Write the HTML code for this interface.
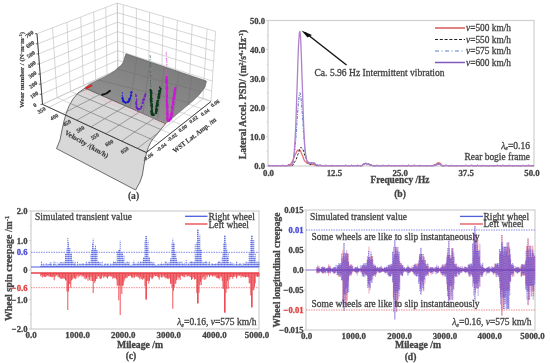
<!DOCTYPE html>
<html><head><meta charset="utf-8"><style>
html,body{margin:0;padding:0;background:#fff;overflow:hidden;}
svg{display:block;font-family:"Liberation Serif",serif;filter:blur(0.35px);}
</style></head><body>
<svg width="550" height="363" viewBox="0 0 550 363">
<rect width="550" height="363" fill="#fff"/>
<path d="M37.0,33.7 L42.5,104.4 M52.6,27.8 L57.1,97.6 M66.9,22.3 L70.5,91.5 M80.7,17.1 L83.5,85.5 M93.7,12.1 L95.7,79.8 M105.8,7.5 L107.0,74.6 M117.3,3.1 L117.8,69.6 M37.0,33.7 L117.3,3.1 M37.8,43.8 L117.4,12.6 M38.6,53.9 L117.4,22.1 M39.4,64.0 L117.5,31.6 M40.1,74.1 L117.6,41.1 M40.9,84.2 L117.7,50.6 M41.7,94.3 L117.7,60.1 M42.5,104.4 L117.8,69.6 M117.3,3.1 L117.8,69.6 M123.2,4.8 L123.4,71.5 M136.4,8.6 L135.9,75.7 M149.6,12.4 L148.5,79.9 M163.3,16.3 L161.4,84.3 M177.3,20.4 L174.7,88.8 M192.2,24.7 L188.8,93.5 M207.1,29.0 L203.0,98.3 M215.6,31.4 L211.0,101.0 M117.3,3.1 L215.6,31.4 M117.4,12.6 L214.9,41.3 M117.4,22.1 L214.3,51.3 M117.5,31.6 L213.6,61.2 M117.6,41.1 L213.0,71.2 M117.7,50.6 L212.3,81.1 M117.7,60.1 L211.7,91.1 M117.8,69.6 L211.0,101.0" stroke="#c4c4c4" stroke-width="0.7" fill="none"/>
<path d="M117.8,69.6 L42.5,104.4 M123.4,71.5 L48.7,107.3 M135.9,75.8 L62.6,113.7 M148.5,80.1 L76.7,120.2 M161.4,84.5 L91.1,126.9 M174.7,89.1 L105.8,133.7 M188.8,93.9 L121.6,141.1 M203.0,98.8 L137.4,148.4 M211.0,101.5 L146.3,152.5 M42.5,104.4 L146.3,152.5 M57.1,97.6 L158.9,142.6 M70.5,91.5 L170.4,133.5 M83.5,85.5 L181.5,124.8 M95.7,79.8 L192.0,116.5 M107.0,74.6 L201.7,108.8 M117.8,69.6 L211.0,101.5" stroke="#c4c4c4" stroke-width="0.7" fill="none"/>
<polygon points="85.0,88.0 165.5,123.5 164.1,125.5 161.0,129.0 156.5,134.9 153.0,138.8 150.7,142.3 148.3,147.5 146.5,153.0 144.0,164.7 142.4,175.0 140.0,182.0 135.6,190.0 56.5,148.6 60.0,140.0 62.0,130.0 64.0,121.0 66.0,114.0 69.0,106.0 73.0,99.0 78.0,93.0 85.0,88.0" fill="#d8d8d8" stroke="#4a4a4a" stroke-width="0.8"/>
<linearGradient id="dkg" gradientUnits="userSpaceOnUse" x1="160" y1="60" x2="140" y2="115"><stop offset="0" stop-color="#7c7c7c"/><stop offset="1" stop-color="#909090"/></linearGradient>
<polygon points="126.0,53.8 206.4,81.0 205.0,87.0 200.0,93.8 193.0,100.7 184.8,107.6 176.5,114.5 168.3,121.4 165.5,123.5 85.0,88.0 89.0,84.4 98.0,80.0 104.0,77.2 110.3,73.8 114.5,71.0 118.0,67.7 121.0,65.5 123.5,62.0 124.5,58.0" fill="url(#dkg)" stroke="#555" stroke-width="0.6"/>
<clipPath id="dclip"><polygon points="126.0,53.8 206.4,81.0 205.0,87.0 200.0,93.8 193.0,100.7 184.8,107.6 176.5,114.5 168.3,121.4 165.5,123.5 85.0,88.0 89.0,84.4 98.0,80.0 104.0,77.2 110.3,73.8 114.5,71.0 118.0,67.7 121.0,65.5 123.5,62.0 124.5,58.0"/></clipPath>
<path d="M137.0,55.6 L130.0,108.1 M150.0,60.0 L143.0,113.3 M164.6,65.0 L157.6,119.2 M179.0,69.9 L172.0,125.0 M192.0,74.4 L185.0,130.2 M110.0,67.0 L210.0,94.0 M95.0,79.0 L210.0,108.0" stroke="#747474" stroke-width="0.6" fill="none" clip-path="url(#dclip)"/>
<clipPath id="cclip"><polygon points="85.0,88.0 165.5,123.5 164.1,125.5 161.0,129.0 156.5,134.9 153.0,138.8 150.7,142.3 148.3,147.5 146.5,153.0 144.0,164.7 142.4,175.0 140.0,182.0 135.6,190.0 56.5,148.6 60.0,140.0 62.0,130.0 64.0,121.0 66.0,114.0 69.0,106.0 73.0,99.0 78.0,93.0 85.0,88.0"/></clipPath>
<path d="M117.8,69.6 L42.5,104.4 M123.4,71.5 L48.7,107.3 M135.9,75.8 L62.6,113.7 M148.5,80.1 L76.7,120.2 M161.4,84.5 L91.1,126.9 M174.7,89.1 L105.8,133.7 M188.8,93.9 L121.6,141.1 M203.0,98.8 L137.4,148.4 M211.0,101.5 L146.3,152.5 M42.5,104.4 L146.3,152.5 M57.1,97.6 L158.9,142.6 M70.5,91.5 L170.4,133.5 M83.5,85.5 L181.5,124.8 M95.7,79.8 L192.0,116.5 M107.0,74.6 L201.7,108.8 M117.8,69.6 L211.0,101.5" stroke="#808080" stroke-width="0.7" fill="none" clip-path="url(#cclip)"/>
<path d="M86,90.5 L167,123.5 M84,92.5 L165,125.5" stroke="#e8a0b0" stroke-width="0.6" stroke-dasharray="1,1" fill="none"/>
<path d="M37,33.7 L42.5,104.4 L146.3,152.5 L211,101.5" stroke="#333" stroke-width="0.9" fill="none"/>
<path d="M35.0,33.7 h2 M35.8,43.8 h2 M36.6,53.9 h2 M37.4,64.0 h2 M38.1,74.1 h2 M38.9,84.2 h2 M39.7,94.3 h2 M40.5,104.4 h2" stroke="#333" stroke-width="0.7"/>
<path d="M85.7,88.4 L92.1,85.2" stroke="#e02020" stroke-width="2.0"/>
<path d="M102.3,94.7 Q107,94 109.9,90.9" stroke="#111" stroke-width="2.0" fill="none" stroke-linecap="round"/>
<g fill="#1a1ad0"><circle cx="122.9" cy="97.4" r="0.75"/><circle cx="122.3" cy="98.3" r="0.75"/><circle cx="122.7" cy="98.5" r="0.75"/><circle cx="122.5" cy="99.1" r="0.75"/><circle cx="122.4" cy="98.4" r="0.75"/><circle cx="122.6" cy="99.6" r="0.75"/><circle cx="122.5" cy="92.9" r="0.75"/><circle cx="122.3" cy="95.7" r="0.75"/><circle cx="123.0" cy="99.8" r="0.75"/><circle cx="122.3" cy="97.5" r="0.75"/><circle cx="128.1" cy="102.3" r="0.75"/><circle cx="123.0" cy="101.3" r="0.75"/><circle cx="124.8" cy="102.2" r="0.75"/><circle cx="124.2" cy="102.0" r="0.75"/><circle cx="125.5" cy="102.9" r="0.75"/><circle cx="125.8" cy="102.3" r="0.75"/><circle cx="122.9" cy="99.8" r="0.75"/><circle cx="123.5" cy="101.1" r="0.75"/><circle cx="124.4" cy="102.2" r="0.75"/><circle cx="127.6" cy="101.4" r="0.75"/><circle cx="127.4" cy="102.3" r="0.75"/><circle cx="123.6" cy="100.8" r="0.75"/><circle cx="127.2" cy="102.6" r="0.75"/><circle cx="123.5" cy="100.9" r="0.75"/><circle cx="125.6" cy="102.9" r="0.75"/><circle cx="123.1" cy="100.9" r="0.75"/><circle cx="123.3" cy="99.6" r="0.75"/><circle cx="127.9" cy="102.5" r="0.75"/><circle cx="124.0" cy="101.7" r="0.75"/><circle cx="123.5" cy="101.4" r="0.75"/><circle cx="128.0" cy="101.9" r="0.75"/><circle cx="127.4" cy="102.0" r="0.75"/><circle cx="124.8" cy="102.1" r="0.75"/><circle cx="128.7" cy="101.6" r="0.75"/><circle cx="125.6" cy="102.7" r="0.75"/><circle cx="130.7" cy="95.2" r="0.75"/><circle cx="129.2" cy="99.6" r="0.75"/><circle cx="131.3" cy="92.7" r="0.75"/><circle cx="131.2" cy="95.4" r="0.75"/><circle cx="131.4" cy="91.8" r="0.75"/><circle cx="130.9" cy="92.6" r="0.75"/><circle cx="129.9" cy="99.5" r="0.75"/><circle cx="129.7" cy="98.9" r="0.75"/><circle cx="129.4" cy="100.5" r="0.75"/><circle cx="129.2" cy="100.7" r="0.75"/><circle cx="128.6" cy="101.2" r="0.75"/><circle cx="129.4" cy="99.1" r="0.75"/><circle cx="130.8" cy="96.4" r="0.75"/><circle cx="128.3" cy="101.9" r="0.75"/><circle cx="130.9" cy="95.5" r="0.75"/><circle cx="129.2" cy="98.8" r="0.75"/><circle cx="129.4" cy="99.2" r="0.75"/><circle cx="131.1" cy="94.1" r="0.75"/><circle cx="130.3" cy="97.7" r="0.75"/><circle cx="129.5" cy="99.1" r="0.75"/><circle cx="130.4" cy="97.8" r="0.75"/><circle cx="130.7" cy="95.4" r="0.75"/><circle cx="129.1" cy="101.3" r="0.75"/><circle cx="131.9" cy="92.3" r="0.75"/><circle cx="128.6" cy="101.4" r="0.75"/></g>
<g fill="#7020c8"><circle cx="136.0" cy="95.9" r="0.75"/><circle cx="136.3" cy="105.3" r="0.75"/><circle cx="136.4" cy="106.6" r="0.75"/><circle cx="136.7" cy="100.3" r="0.75"/><circle cx="136.2" cy="103.5" r="0.75"/><circle cx="136.4" cy="103.3" r="0.75"/><circle cx="136.3" cy="104.0" r="0.75"/><circle cx="136.1" cy="96.0" r="0.75"/><circle cx="136.4" cy="103.8" r="0.75"/><circle cx="136.5" cy="101.5" r="0.75"/><circle cx="136.2" cy="102.9" r="0.75"/><circle cx="136.6" cy="99.0" r="0.75"/><circle cx="136.4" cy="101.9" r="0.75"/><circle cx="136.9" cy="104.4" r="0.75"/><circle cx="136.1" cy="102.0" r="0.75"/><circle cx="136.1" cy="103.9" r="0.75"/><circle cx="135.8" cy="94.5" r="0.75"/><circle cx="136.1" cy="96.2" r="0.75"/><circle cx="138.3" cy="109.4" r="0.75"/><circle cx="138.7" cy="109.5" r="0.75"/><circle cx="137.1" cy="108.4" r="0.75"/><circle cx="139.1" cy="109.0" r="0.75"/><circle cx="139.0" cy="109.2" r="0.75"/><circle cx="136.6" cy="107.6" r="0.75"/><circle cx="138.4" cy="108.8" r="0.75"/><circle cx="137.1" cy="108.4" r="0.75"/><circle cx="137.2" cy="107.8" r="0.75"/><circle cx="137.0" cy="107.5" r="0.75"/><circle cx="137.9" cy="108.8" r="0.75"/><circle cx="137.2" cy="108.4" r="0.75"/><circle cx="137.3" cy="108.3" r="0.75"/><circle cx="137.1" cy="107.2" r="0.75"/><circle cx="138.1" cy="109.6" r="0.75"/><circle cx="137.6" cy="108.8" r="0.75"/><circle cx="139.2" cy="108.8" r="0.75"/><circle cx="139.1" cy="109.5" r="0.75"/><circle cx="137.3" cy="108.3" r="0.75"/><circle cx="140.7" cy="108.9" r="0.75"/><circle cx="136.2" cy="107.0" r="0.75"/><circle cx="138.0" cy="109.1" r="0.75"/><circle cx="137.3" cy="108.3" r="0.75"/><circle cx="138.1" cy="109.4" r="0.75"/><circle cx="136.5" cy="107.6" r="0.75"/><circle cx="145.1" cy="96.7" r="0.75"/><circle cx="142.8" cy="102.3" r="0.75"/><circle cx="141.4" cy="108.0" r="0.75"/><circle cx="144.3" cy="99.6" r="0.75"/><circle cx="141.0" cy="107.0" r="0.75"/><circle cx="143.2" cy="100.5" r="0.75"/><circle cx="143.0" cy="103.5" r="0.75"/><circle cx="143.2" cy="99.7" r="0.75"/><circle cx="145.7" cy="94.2" r="0.75"/><circle cx="144.8" cy="96.5" r="0.75"/><circle cx="142.5" cy="102.3" r="0.75"/><circle cx="144.2" cy="96.2" r="0.75"/><circle cx="143.8" cy="98.6" r="0.75"/><circle cx="142.2" cy="102.9" r="0.75"/><circle cx="141.9" cy="106.4" r="0.75"/><circle cx="143.3" cy="99.6" r="0.75"/><circle cx="143.4" cy="100.2" r="0.75"/><circle cx="145.3" cy="95.0" r="0.75"/><circle cx="145.2" cy="94.0" r="0.75"/><circle cx="143.9" cy="99.1" r="0.75"/><circle cx="142.7" cy="103.1" r="0.75"/><circle cx="145.4" cy="95.5" r="0.75"/><circle cx="141.1" cy="107.7" r="0.75"/><circle cx="141.5" cy="106.2" r="0.75"/><circle cx="143.8" cy="100.1" r="0.75"/><circle cx="143.4" cy="99.1" r="0.75"/><circle cx="141.5" cy="106.3" r="0.75"/><circle cx="143.5" cy="99.4" r="0.75"/><circle cx="145.2" cy="95.1" r="0.75"/><circle cx="142.9" cy="102.3" r="0.75"/></g>
<g fill="#2a5a3a"><circle cx="150.0" cy="59.7" r="0.55"/><circle cx="150.7" cy="75.6" r="0.55"/><circle cx="150.0" cy="63.7" r="0.55"/><circle cx="150.9" cy="85.9" r="0.55"/><circle cx="150.2" cy="71.9" r="0.55"/><circle cx="150.3" cy="66.1" r="0.55"/><circle cx="150.5" cy="83.0" r="0.55"/><circle cx="150.1" cy="55.9" r="0.55"/><circle cx="150.3" cy="80.6" r="0.55"/><circle cx="150.4" cy="57.1" r="0.55"/></g>
<g fill="#0c3c1c"><circle cx="151.6" cy="99.4" r="0.85"/><circle cx="151.7" cy="109.1" r="0.85"/><circle cx="151.6" cy="101.8" r="0.85"/><circle cx="152.1" cy="104.1" r="0.85"/><circle cx="150.8" cy="102.9" r="0.85"/><circle cx="152.2" cy="107.0" r="0.85"/><circle cx="151.1" cy="99.0" r="0.85"/><circle cx="151.3" cy="92.9" r="0.85"/><circle cx="150.9" cy="91.5" r="0.85"/><circle cx="151.1" cy="94.1" r="0.85"/><circle cx="151.3" cy="90.8" r="0.85"/><circle cx="151.0" cy="111.2" r="0.85"/><circle cx="150.6" cy="101.2" r="0.85"/><circle cx="151.5" cy="108.1" r="0.85"/><circle cx="150.6" cy="89.6" r="0.85"/><circle cx="150.9" cy="100.4" r="0.85"/><circle cx="151.8" cy="110.3" r="0.85"/><circle cx="151.8" cy="103.9" r="0.85"/><circle cx="151.0" cy="99.5" r="0.85"/><circle cx="152.0" cy="101.2" r="0.85"/><circle cx="151.4" cy="92.5" r="0.85"/><circle cx="150.8" cy="93.0" r="0.85"/><circle cx="151.5" cy="93.6" r="0.85"/><circle cx="150.5" cy="98.1" r="0.85"/><circle cx="150.6" cy="99.2" r="0.85"/><circle cx="152.3" cy="109.8" r="0.85"/><circle cx="151.4" cy="93.2" r="0.85"/><circle cx="151.3" cy="96.4" r="0.85"/><circle cx="151.3" cy="96.8" r="0.85"/><circle cx="150.8" cy="93.0" r="0.85"/><circle cx="151.1" cy="96.7" r="0.85"/><circle cx="150.6" cy="95.2" r="0.85"/><circle cx="151.0" cy="100.4" r="0.85"/><circle cx="150.6" cy="90.6" r="0.85"/><circle cx="151.7" cy="111.6" r="0.85"/><circle cx="151.0" cy="99.2" r="0.85"/><circle cx="152.2" cy="112.2" r="0.85"/><circle cx="151.8" cy="106.1" r="0.85"/><circle cx="151.5" cy="105.9" r="0.85"/><circle cx="151.1" cy="101.0" r="0.85"/><circle cx="152.0" cy="111.8" r="0.85"/><circle cx="150.6" cy="92.1" r="0.85"/><circle cx="150.8" cy="105.2" r="0.85"/><circle cx="151.2" cy="97.1" r="0.85"/><circle cx="151.8" cy="105.2" r="0.85"/><circle cx="152.2" cy="106.4" r="0.85"/><circle cx="151.3" cy="93.1" r="0.85"/><circle cx="151.4" cy="94.9" r="0.85"/><circle cx="151.5" cy="91.2" r="0.85"/><circle cx="151.3" cy="95.8" r="0.85"/><circle cx="151.2" cy="92.0" r="0.85"/><circle cx="150.8" cy="99.2" r="0.85"/><circle cx="152.4" cy="112.0" r="0.85"/><circle cx="151.9" cy="98.4" r="0.85"/><circle cx="151.0" cy="96.4" r="0.85"/><circle cx="151.1" cy="100.3" r="0.85"/><circle cx="151.3" cy="97.1" r="0.85"/><circle cx="152.1" cy="107.0" r="0.85"/><circle cx="151.3" cy="105.9" r="0.85"/><circle cx="151.2" cy="93.8" r="0.85"/><circle cx="151.4" cy="95.3" r="0.85"/><circle cx="152.1" cy="105.0" r="0.85"/><circle cx="151.4" cy="111.3" r="0.85"/><circle cx="151.6" cy="105.5" r="0.85"/><circle cx="150.7" cy="100.1" r="0.85"/><circle cx="152.2" cy="112.0" r="0.85"/><circle cx="150.2" cy="90.2" r="0.85"/><circle cx="151.4" cy="92.0" r="0.85"/><circle cx="151.9" cy="107.8" r="0.85"/><circle cx="151.1" cy="99.5" r="0.85"/><circle cx="152.5" cy="113.0" r="0.85"/><circle cx="153.3" cy="114.8" r="0.85"/><circle cx="156.6" cy="111.6" r="0.85"/><circle cx="152.8" cy="114.2" r="0.85"/><circle cx="153.0" cy="114.9" r="0.85"/><circle cx="151.6" cy="113.2" r="0.85"/><circle cx="152.1" cy="113.7" r="0.85"/><circle cx="155.7" cy="113.3" r="0.85"/><circle cx="152.8" cy="114.7" r="0.85"/><circle cx="156.1" cy="113.3" r="0.85"/><circle cx="151.7" cy="113.9" r="0.85"/><circle cx="152.7" cy="115.1" r="0.85"/><circle cx="151.5" cy="113.7" r="0.85"/><circle cx="153.5" cy="114.7" r="0.85"/><circle cx="151.4" cy="113.0" r="0.85"/><circle cx="152.0" cy="113.8" r="0.85"/><circle cx="152.6" cy="114.9" r="0.85"/><circle cx="152.1" cy="115.0" r="0.85"/><circle cx="152.3" cy="113.9" r="0.85"/><circle cx="152.3" cy="113.6" r="0.85"/><circle cx="156.5" cy="113.0" r="0.85"/><circle cx="152.5" cy="114.8" r="0.85"/><circle cx="152.9" cy="114.1" r="0.85"/><circle cx="152.4" cy="114.3" r="0.85"/><circle cx="153.4" cy="114.6" r="0.85"/><circle cx="152.3" cy="114.0" r="0.85"/><circle cx="152.1" cy="114.5" r="0.85"/><circle cx="152.1" cy="113.6" r="0.85"/><circle cx="153.1" cy="114.8" r="0.85"/><circle cx="155.4" cy="113.0" r="0.85"/><circle cx="153.9" cy="115.3" r="0.85"/><circle cx="155.8" cy="112.6" r="0.85"/><circle cx="152.8" cy="114.6" r="0.85"/><circle cx="151.5" cy="112.6" r="0.85"/><circle cx="153.6" cy="114.5" r="0.85"/><circle cx="158.5" cy="100.4" r="0.85"/><circle cx="158.4" cy="97.3" r="0.85"/><circle cx="157.7" cy="102.8" r="0.85"/><circle cx="159.2" cy="96.4" r="0.85"/><circle cx="159.0" cy="93.5" r="0.85"/><circle cx="160.6" cy="89.0" r="0.85"/><circle cx="156.7" cy="104.1" r="0.85"/><circle cx="157.6" cy="100.9" r="0.85"/><circle cx="159.1" cy="90.8" r="0.85"/><circle cx="156.4" cy="106.3" r="0.85"/><circle cx="157.2" cy="109.1" r="0.85"/><circle cx="157.2" cy="104.8" r="0.85"/><circle cx="155.8" cy="109.6" r="0.85"/><circle cx="159.9" cy="91.8" r="0.85"/><circle cx="160.1" cy="91.1" r="0.85"/><circle cx="156.7" cy="103.7" r="0.85"/><circle cx="156.5" cy="108.6" r="0.85"/><circle cx="156.4" cy="109.3" r="0.85"/><circle cx="156.7" cy="106.5" r="0.85"/><circle cx="156.3" cy="109.8" r="0.85"/><circle cx="157.3" cy="100.9" r="0.85"/><circle cx="159.3" cy="97.7" r="0.85"/><circle cx="157.1" cy="105.1" r="0.85"/><circle cx="156.1" cy="110.9" r="0.85"/><circle cx="159.1" cy="94.5" r="0.85"/><circle cx="156.8" cy="111.0" r="0.85"/><circle cx="157.1" cy="106.3" r="0.85"/><circle cx="156.6" cy="105.2" r="0.85"/><circle cx="157.6" cy="103.1" r="0.85"/><circle cx="156.9" cy="110.1" r="0.85"/><circle cx="157.7" cy="102.2" r="0.85"/><circle cx="157.8" cy="104.7" r="0.85"/><circle cx="158.9" cy="93.5" r="0.85"/><circle cx="158.4" cy="98.7" r="0.85"/><circle cx="160.8" cy="89.0" r="0.85"/><circle cx="158.8" cy="95.2" r="0.85"/><circle cx="159.4" cy="92.5" r="0.85"/><circle cx="158.8" cy="97.0" r="0.85"/><circle cx="157.5" cy="100.8" r="0.85"/><circle cx="159.0" cy="91.2" r="0.85"/><circle cx="159.5" cy="96.1" r="0.85"/><circle cx="159.8" cy="87.2" r="0.85"/><circle cx="159.8" cy="94.3" r="0.85"/><circle cx="159.3" cy="93.8" r="0.85"/><circle cx="156.8" cy="105.9" r="0.85"/><circle cx="160.3" cy="90.8" r="0.85"/><circle cx="157.2" cy="102.3" r="0.85"/><circle cx="156.2" cy="109.1" r="0.85"/><circle cx="156.1" cy="110.8" r="0.85"/><circle cx="156.2" cy="107.8" r="0.85"/><circle cx="157.9" cy="105.7" r="0.85"/><circle cx="158.4" cy="94.4" r="0.85"/><circle cx="157.5" cy="104.6" r="0.85"/><circle cx="156.1" cy="110.4" r="0.85"/><circle cx="159.6" cy="93.5" r="0.85"/><circle cx="158.1" cy="98.1" r="0.85"/><circle cx="155.8" cy="111.4" r="0.85"/><circle cx="156.6" cy="110.2" r="0.85"/><circle cx="156.6" cy="109.0" r="0.85"/><circle cx="156.9" cy="103.4" r="0.85"/><circle cx="159.7" cy="90.3" r="0.85"/><circle cx="160.4" cy="88.5" r="0.85"/><circle cx="158.1" cy="96.6" r="0.85"/><circle cx="156.3" cy="106.0" r="0.85"/><circle cx="157.7" cy="100.5" r="0.85"/><circle cx="157.3" cy="102.8" r="0.85"/><circle cx="157.7" cy="104.3" r="0.85"/><circle cx="155.9" cy="111.7" r="0.85"/><circle cx="158.9" cy="97.9" r="0.85"/><circle cx="160.4" cy="91.9" r="0.85"/></g>
<g fill="#e050e0"><circle cx="166.5" cy="58.5" r="0.55"/><circle cx="166.2" cy="54.9" r="0.55"/><circle cx="166.3" cy="74.9" r="0.55"/><circle cx="166.3" cy="52.3" r="0.55"/><circle cx="166.9" cy="62.2" r="0.55"/><circle cx="166.4" cy="70.2" r="0.55"/><circle cx="166.8" cy="64.3" r="0.55"/><circle cx="166.8" cy="60.9" r="0.55"/><circle cx="166.6" cy="75.1" r="0.55"/><circle cx="166.3" cy="58.2" r="0.55"/><circle cx="166.9" cy="65.1" r="0.55"/><circle cx="167.0" cy="72.2" r="0.55"/><circle cx="166.2" cy="53.8" r="0.55"/><circle cx="166.7" cy="59.8" r="0.55"/></g>
<g fill="#d018d8"><circle cx="166.7" cy="76.9" r="0.85"/><circle cx="166.3" cy="79.5" r="0.85"/><circle cx="167.9" cy="111.2" r="0.85"/><circle cx="167.6" cy="98.0" r="0.85"/><circle cx="167.2" cy="113.8" r="0.85"/><circle cx="166.4" cy="78.4" r="0.85"/><circle cx="166.5" cy="102.0" r="0.85"/><circle cx="166.9" cy="82.3" r="0.85"/><circle cx="167.3" cy="107.2" r="0.85"/><circle cx="166.9" cy="103.0" r="0.85"/><circle cx="167.0" cy="102.8" r="0.85"/><circle cx="167.2" cy="86.2" r="0.85"/><circle cx="167.7" cy="116.2" r="0.85"/><circle cx="166.5" cy="82.1" r="0.85"/><circle cx="166.3" cy="79.1" r="0.85"/><circle cx="166.6" cy="106.1" r="0.85"/><circle cx="166.2" cy="80.8" r="0.85"/><circle cx="166.7" cy="80.2" r="0.85"/><circle cx="167.0" cy="96.4" r="0.85"/><circle cx="166.6" cy="104.7" r="0.85"/><circle cx="167.8" cy="114.6" r="0.85"/><circle cx="167.7" cy="107.4" r="0.85"/><circle cx="167.1" cy="80.4" r="0.85"/><circle cx="167.4" cy="103.3" r="0.85"/><circle cx="167.9" cy="113.1" r="0.85"/><circle cx="166.4" cy="81.5" r="0.85"/><circle cx="167.1" cy="108.1" r="0.85"/><circle cx="166.7" cy="87.3" r="0.85"/><circle cx="166.5" cy="88.8" r="0.85"/><circle cx="166.6" cy="76.8" r="0.85"/><circle cx="167.6" cy="108.7" r="0.85"/><circle cx="166.6" cy="99.3" r="0.85"/><circle cx="168.0" cy="115.1" r="0.85"/><circle cx="166.7" cy="96.4" r="0.85"/><circle cx="166.8" cy="83.4" r="0.85"/><circle cx="166.2" cy="86.0" r="0.85"/><circle cx="167.3" cy="88.3" r="0.85"/><circle cx="168.0" cy="117.0" r="0.85"/><circle cx="167.2" cy="86.1" r="0.85"/><circle cx="167.4" cy="81.1" r="0.85"/><circle cx="166.9" cy="92.0" r="0.85"/><circle cx="167.0" cy="80.9" r="0.85"/><circle cx="167.3" cy="94.8" r="0.85"/><circle cx="166.8" cy="102.9" r="0.85"/><circle cx="166.9" cy="104.6" r="0.85"/><circle cx="167.2" cy="83.9" r="0.85"/><circle cx="166.9" cy="83.3" r="0.85"/><circle cx="166.9" cy="97.1" r="0.85"/><circle cx="167.4" cy="105.7" r="0.85"/><circle cx="166.6" cy="95.5" r="0.85"/><circle cx="166.5" cy="100.6" r="0.85"/><circle cx="167.3" cy="114.8" r="0.85"/><circle cx="166.1" cy="83.2" r="0.85"/><circle cx="167.6" cy="88.7" r="0.85"/><circle cx="166.9" cy="98.3" r="0.85"/><circle cx="166.5" cy="99.0" r="0.85"/><circle cx="166.7" cy="114.2" r="0.85"/><circle cx="167.3" cy="100.7" r="0.85"/><circle cx="167.2" cy="105.2" r="0.85"/><circle cx="167.0" cy="95.2" r="0.85"/><circle cx="167.5" cy="110.0" r="0.85"/><circle cx="166.9" cy="112.0" r="0.85"/><circle cx="166.9" cy="89.8" r="0.85"/><circle cx="166.4" cy="81.2" r="0.85"/><circle cx="167.4" cy="87.3" r="0.85"/><circle cx="167.0" cy="91.6" r="0.85"/><circle cx="167.6" cy="114.5" r="0.85"/><circle cx="166.3" cy="88.4" r="0.85"/><circle cx="167.1" cy="103.2" r="0.85"/><circle cx="167.7" cy="104.3" r="0.85"/><circle cx="167.2" cy="117.4" r="0.85"/><circle cx="166.3" cy="81.9" r="0.85"/><circle cx="166.7" cy="109.5" r="0.85"/><circle cx="167.6" cy="91.3" r="0.85"/><circle cx="166.1" cy="81.3" r="0.85"/><circle cx="167.2" cy="103.5" r="0.85"/><circle cx="166.9" cy="112.2" r="0.85"/><circle cx="167.1" cy="100.9" r="0.85"/><circle cx="167.0" cy="78.7" r="0.85"/><circle cx="167.2" cy="117.3" r="0.85"/><circle cx="166.7" cy="93.7" r="0.85"/><circle cx="166.9" cy="103.2" r="0.85"/><circle cx="167.1" cy="108.0" r="0.85"/><circle cx="166.3" cy="87.7" r="0.85"/><circle cx="166.6" cy="94.4" r="0.85"/><circle cx="166.9" cy="90.3" r="0.85"/><circle cx="167.3" cy="80.8" r="0.85"/><circle cx="167.0" cy="79.6" r="0.85"/><circle cx="167.8" cy="106.5" r="0.85"/><circle cx="166.6" cy="93.9" r="0.85"/><circle cx="170.0" cy="119.4" r="0.85"/><circle cx="167.6" cy="119.1" r="0.85"/><circle cx="168.2" cy="120.7" r="0.85"/><circle cx="168.0" cy="119.8" r="0.85"/><circle cx="170.9" cy="118.6" r="0.85"/><circle cx="169.9" cy="119.3" r="0.85"/><circle cx="170.0" cy="118.7" r="0.85"/><circle cx="169.4" cy="120.0" r="0.85"/><circle cx="167.5" cy="119.7" r="0.85"/><circle cx="168.7" cy="119.8" r="0.85"/><circle cx="168.0" cy="120.3" r="0.85"/><circle cx="166.9" cy="118.6" r="0.85"/><circle cx="169.5" cy="120.7" r="0.85"/><circle cx="167.6" cy="119.6" r="0.85"/><circle cx="167.9" cy="119.3" r="0.85"/><circle cx="169.1" cy="119.6" r="0.85"/><circle cx="170.6" cy="118.0" r="0.85"/><circle cx="170.5" cy="118.7" r="0.85"/><circle cx="168.8" cy="120.8" r="0.85"/><circle cx="168.2" cy="119.7" r="0.85"/><circle cx="170.4" cy="119.0" r="0.85"/><circle cx="167.7" cy="119.3" r="0.85"/><circle cx="169.2" cy="119.7" r="0.85"/><circle cx="168.2" cy="119.3" r="0.85"/><circle cx="171.3" cy="118.7" r="0.85"/><circle cx="169.6" cy="120.0" r="0.85"/><circle cx="169.2" cy="121.0" r="0.85"/><circle cx="167.6" cy="120.5" r="0.85"/><circle cx="169.4" cy="120.1" r="0.85"/><circle cx="170.6" cy="117.8" r="0.85"/><circle cx="168.5" cy="120.9" r="0.85"/><circle cx="167.8" cy="119.6" r="0.85"/><circle cx="169.1" cy="120.1" r="0.85"/><circle cx="170.8" cy="118.5" r="0.85"/><circle cx="168.2" cy="119.6" r="0.85"/><circle cx="174.2" cy="98.4" r="0.85"/><circle cx="174.7" cy="89.3" r="0.85"/><circle cx="172.5" cy="107.8" r="0.85"/><circle cx="175.1" cy="93.1" r="0.85"/><circle cx="173.1" cy="101.3" r="0.85"/><circle cx="171.8" cy="113.2" r="0.85"/><circle cx="171.8" cy="115.7" r="0.85"/><circle cx="175.1" cy="88.4" r="0.85"/><circle cx="173.1" cy="102.8" r="0.85"/><circle cx="172.6" cy="104.9" r="0.85"/><circle cx="175.4" cy="89.0" r="0.85"/><circle cx="173.5" cy="99.4" r="0.85"/><circle cx="172.7" cy="102.0" r="0.85"/><circle cx="172.9" cy="108.9" r="0.85"/><circle cx="173.9" cy="94.2" r="0.85"/><circle cx="171.6" cy="110.7" r="0.85"/><circle cx="173.4" cy="103.9" r="0.85"/><circle cx="174.8" cy="94.7" r="0.85"/><circle cx="173.3" cy="98.7" r="0.85"/><circle cx="171.3" cy="113.2" r="0.85"/><circle cx="171.4" cy="112.0" r="0.85"/><circle cx="174.0" cy="95.6" r="0.85"/><circle cx="173.9" cy="95.7" r="0.85"/><circle cx="171.9" cy="115.1" r="0.85"/><circle cx="175.7" cy="87.5" r="0.85"/><circle cx="171.7" cy="113.7" r="0.85"/><circle cx="171.8" cy="112.5" r="0.85"/><circle cx="170.7" cy="114.9" r="0.85"/><circle cx="172.9" cy="103.5" r="0.85"/><circle cx="173.1" cy="98.3" r="0.85"/><circle cx="174.6" cy="91.9" r="0.85"/><circle cx="171.7" cy="113.4" r="0.85"/><circle cx="174.4" cy="96.3" r="0.85"/><circle cx="171.2" cy="114.6" r="0.85"/><circle cx="173.3" cy="100.1" r="0.85"/><circle cx="172.6" cy="110.5" r="0.85"/><circle cx="172.3" cy="106.4" r="0.85"/><circle cx="170.5" cy="116.5" r="0.85"/><circle cx="173.8" cy="94.8" r="0.85"/><circle cx="171.3" cy="113.8" r="0.85"/><circle cx="173.9" cy="94.4" r="0.85"/><circle cx="172.6" cy="107.2" r="0.85"/><circle cx="173.9" cy="99.1" r="0.85"/><circle cx="174.4" cy="97.5" r="0.85"/><circle cx="173.3" cy="103.0" r="0.85"/><circle cx="175.2" cy="90.7" r="0.85"/><circle cx="175.6" cy="89.5" r="0.85"/><circle cx="172.5" cy="108.6" r="0.85"/><circle cx="172.0" cy="107.5" r="0.85"/><circle cx="174.9" cy="90.1" r="0.85"/><circle cx="171.9" cy="113.6" r="0.85"/><circle cx="172.8" cy="104.9" r="0.85"/><circle cx="173.3" cy="104.8" r="0.85"/><circle cx="175.4" cy="87.7" r="0.85"/><circle cx="171.8" cy="113.7" r="0.85"/><circle cx="173.6" cy="97.5" r="0.85"/><circle cx="174.5" cy="94.6" r="0.85"/><circle cx="173.7" cy="95.2" r="0.85"/><circle cx="171.1" cy="117.5" r="0.85"/><circle cx="174.6" cy="89.2" r="0.85"/><circle cx="171.7" cy="108.2" r="0.85"/><circle cx="174.5" cy="90.7" r="0.85"/><circle cx="173.6" cy="96.9" r="0.85"/><circle cx="172.7" cy="105.4" r="0.85"/><circle cx="174.1" cy="91.7" r="0.85"/><circle cx="174.2" cy="97.1" r="0.85"/><circle cx="171.8" cy="107.0" r="0.85"/><circle cx="173.9" cy="95.7" r="0.85"/><circle cx="173.1" cy="101.9" r="0.85"/><circle cx="174.1" cy="95.8" r="0.85"/><circle cx="173.2" cy="99.1" r="0.85"/><circle cx="174.8" cy="93.1" r="0.85"/><circle cx="171.8" cy="113.4" r="0.85"/><circle cx="173.8" cy="102.7" r="0.85"/><circle cx="170.4" cy="118.0" r="0.85"/><circle cx="174.7" cy="93.1" r="0.85"/><circle cx="174.7" cy="93.7" r="0.85"/><circle cx="174.8" cy="92.0" r="0.85"/><circle cx="171.4" cy="117.2" r="0.85"/><circle cx="173.6" cy="101.6" r="0.85"/></g>
<text x="36.0" y="106.6" font-size="5.8" fill="#3a3a3a" stroke="#3a3a3a" stroke-width="0.15" text-anchor="middle" font-weight="bold" transform="rotate(-35 36.0 106.6)">0</text>
<text x="35.2" y="96.5" font-size="5.8" fill="#3a3a3a" stroke="#3a3a3a" stroke-width="0.15" text-anchor="middle" font-weight="bold" transform="rotate(-35 35.2 96.5)">100</text>
<text x="34.4" y="86.4" font-size="5.8" fill="#3a3a3a" stroke="#3a3a3a" stroke-width="0.15" text-anchor="middle" font-weight="bold" transform="rotate(-35 34.4 86.4)">200</text>
<text x="33.6" y="76.3" font-size="5.8" fill="#3a3a3a" stroke="#3a3a3a" stroke-width="0.15" text-anchor="middle" font-weight="bold" transform="rotate(-35 33.6 76.3)">300</text>
<text x="32.9" y="66.2" font-size="5.8" fill="#3a3a3a" stroke="#3a3a3a" stroke-width="0.15" text-anchor="middle" font-weight="bold" transform="rotate(-35 32.9 66.2)">400</text>
<text x="32.1" y="56.1" font-size="5.8" fill="#3a3a3a" stroke="#3a3a3a" stroke-width="0.15" text-anchor="middle" font-weight="bold" transform="rotate(-35 32.1 56.1)">500</text>
<text x="31.3" y="46.0" font-size="5.8" fill="#3a3a3a" stroke="#3a3a3a" stroke-width="0.15" text-anchor="middle" font-weight="bold" transform="rotate(-35 31.3 46.0)">600</text>
<text x="30.5" y="35.9" font-size="5.8" fill="#3a3a3a" stroke="#3a3a3a" stroke-width="0.15" text-anchor="middle" font-weight="bold" transform="rotate(-35 30.5 35.9)">700</text>
<text x="42.5" y="112.0" font-size="5.6" fill="#3a3a3a" stroke="#3a3a3a" stroke-width="0.15" text-anchor="middle" font-weight="bold" transform="rotate(-30 42.5 112.0)">350</text>
<text x="55.2" y="118.6" font-size="5.6" fill="#3a3a3a" stroke="#3a3a3a" stroke-width="0.15" text-anchor="middle" font-weight="bold" transform="rotate(-30 55.2 118.6)">400</text>
<text x="67.8" y="124.7" font-size="5.6" fill="#3a3a3a" stroke="#3a3a3a" stroke-width="0.15" text-anchor="middle" font-weight="bold" transform="rotate(-30 67.8 124.7)">450</text>
<text x="81.3" y="131.0" font-size="5.6" fill="#3a3a3a" stroke="#3a3a3a" stroke-width="0.15" text-anchor="middle" font-weight="bold" transform="rotate(-30 81.3 131.0)">500</text>
<text x="95.8" y="138.0" font-size="5.6" fill="#3a3a3a" stroke="#3a3a3a" stroke-width="0.15" text-anchor="middle" font-weight="bold" transform="rotate(-30 95.8 138.0)">550</text>
<text x="110.2" y="144.7" font-size="5.6" fill="#3a3a3a" stroke="#3a3a3a" stroke-width="0.15" text-anchor="middle" font-weight="bold" transform="rotate(-30 110.2 144.7)">600</text>
<text x="125.6" y="151.8" font-size="5.6" fill="#3a3a3a" stroke="#3a3a3a" stroke-width="0.15" text-anchor="middle" font-weight="bold" transform="rotate(-30 125.6 151.8)">650</text>
<text x="162.4" y="148.7" font-size="5.4" fill="#3a3a3a" stroke="#3a3a3a" stroke-width="0.15" text-anchor="middle" font-weight="bold" transform="rotate(-35 162.4 148.7)">-0.04</text>
<text x="173.1" y="138.8" font-size="5.4" fill="#3a3a3a" stroke="#3a3a3a" stroke-width="0.15" text-anchor="middle" font-weight="bold" transform="rotate(-35 173.1 138.8)">-0.02</text>
<text x="183.8" y="129.9" font-size="5.4" fill="#3a3a3a" stroke="#3a3a3a" stroke-width="0.15" text-anchor="middle" font-weight="bold" transform="rotate(-35 183.8 129.9)">0.00</text>
<text x="194.6" y="121.0" font-size="5.4" fill="#3a3a3a" stroke="#3a3a3a" stroke-width="0.15" text-anchor="middle" font-weight="bold" transform="rotate(-35 194.6 121.0)">0.02</text>
<text x="206.2" y="113.8" font-size="5.4" fill="#3a3a3a" stroke="#3a3a3a" stroke-width="0.15" text-anchor="middle" font-weight="bold" transform="rotate(-35 206.2 113.8)">0.04</text>
<text x="216.0" y="104.8" font-size="5.4" fill="#3a3a3a" stroke="#3a3a3a" stroke-width="0.15" text-anchor="middle" font-weight="bold" transform="rotate(-35 216.0 104.8)">0.06</text>
<text x="149.0" y="158.5" font-size="5.4" fill="#3a3a3a" stroke="#3a3a3a" stroke-width="0.15" text-anchor="middle" font-weight="bold" transform="rotate(-35 149.0 158.5)">-0.06</text>
<text x="85.5" y="146.0" font-size="7" fill="#3a3a3a" stroke="#3a3a3a" stroke-width="0.15" text-anchor="middle" font-weight="bold" transform="rotate(29.5 85.5 146.0)" textLength="49" lengthAdjust="spacingAndGlyphs">Velocity /(km/h)</text>
<text x="196.0" y="137.0" font-size="7" fill="#3a3a3a" stroke="#3a3a3a" stroke-width="0.15" text-anchor="middle" font-weight="bold" transform="rotate(-38 196.0 137.0)" textLength="53" lengthAdjust="spacingAndGlyphs">WST Lat. Amp. /m</text>
<text x="24.3" y="70.0" font-size="6" fill="#3a3a3a" stroke="#3a3a3a" stroke-width="0.15" text-anchor="middle" font-weight="bold" transform="rotate(-90 24.3 70.0)" textLength="76" lengthAdjust="spacingAndGlyphs">Wear number / (N·m·m<tspan dy="-2" font-size="4">-1</tspan><tspan dy="2">)</tspan></text>
<text x="133.5" y="198.5" font-size="9.6" fill="#3a3a3a" stroke="#3a3a3a" stroke-width="0.15" text-anchor="middle" font-weight="bold" transform="rotate(0 133.5 198.5)">(a)</text>
<rect x="268" y="20.5" width="266" height="145.5" fill="none" stroke="#cfcfcf" stroke-width="1.2"/>
<text x="265.0" y="169.0" font-size="8.6" text-anchor="end" fill="#444444" stroke="#444444" stroke-width="0.3" font-weight="bold">0.0</text>
<line x1="266.0" y1="166.0" x2="268.0" y2="166.0" stroke="#cfcfcf" stroke-width="1"/>
<text x="265.0" y="139.9" font-size="8.6" text-anchor="end" fill="#444444" stroke="#444444" stroke-width="0.3" font-weight="bold">10.0</text>
<line x1="266.0" y1="136.9" x2="268.0" y2="136.9" stroke="#cfcfcf" stroke-width="1"/>
<text x="265.0" y="110.8" font-size="8.6" text-anchor="end" fill="#444444" stroke="#444444" stroke-width="0.3" font-weight="bold">20.0</text>
<line x1="266.0" y1="107.8" x2="268.0" y2="107.8" stroke="#cfcfcf" stroke-width="1"/>
<text x="265.0" y="81.7" font-size="8.6" text-anchor="end" fill="#444444" stroke="#444444" stroke-width="0.3" font-weight="bold">30.0</text>
<line x1="266.0" y1="78.7" x2="268.0" y2="78.7" stroke="#cfcfcf" stroke-width="1"/>
<text x="265.0" y="52.6" font-size="8.6" text-anchor="end" fill="#444444" stroke="#444444" stroke-width="0.3" font-weight="bold">40.0</text>
<line x1="266.0" y1="49.6" x2="268.0" y2="49.6" stroke="#cfcfcf" stroke-width="1"/>
<text x="265.0" y="23.5" font-size="8.6" text-anchor="end" fill="#444444" stroke="#444444" stroke-width="0.3" font-weight="bold">50.0</text>
<line x1="266.0" y1="20.5" x2="268.0" y2="20.5" stroke="#cfcfcf" stroke-width="1"/>
<line x1="266.5" y1="151.4" x2="268.0" y2="151.4" stroke="#cfcfcf" stroke-width="0.8"/>
<line x1="266.5" y1="122.3" x2="268.0" y2="122.3" stroke="#cfcfcf" stroke-width="0.8"/>
<line x1="266.5" y1="93.2" x2="268.0" y2="93.2" stroke="#cfcfcf" stroke-width="0.8"/>
<line x1="266.5" y1="64.2" x2="268.0" y2="64.2" stroke="#cfcfcf" stroke-width="0.8"/>
<line x1="266.5" y1="35.0" x2="268.0" y2="35.0" stroke="#cfcfcf" stroke-width="0.8"/>
<text x="268.5" y="176.0" font-size="8.8" text-anchor="middle" fill="#444444" stroke="#444444" stroke-width="0.3" font-weight="bold">0.0</text>
<text x="334.4" y="176.0" font-size="8.8" text-anchor="middle" fill="#444444" stroke="#444444" stroke-width="0.3" font-weight="bold">12.5</text>
<text x="400.2" y="176.0" font-size="8.8" text-anchor="middle" fill="#444444" stroke="#444444" stroke-width="0.3" font-weight="bold">25.0</text>
<text x="466.1" y="176.0" font-size="8.8" text-anchor="middle" fill="#444444" stroke="#444444" stroke-width="0.3" font-weight="bold">37.5</text>
<text x="532.0" y="176.0" font-size="8.8" text-anchor="middle" fill="#444444" stroke="#444444" stroke-width="0.3" font-weight="bold">50.0</text>
<text x="400.0" y="182.5" font-size="9.6" text-anchor="middle" fill="#444444" stroke="#444444" stroke-width="0.3" font-weight="bold" textLength="59" lengthAdjust="spacingAndGlyphs">Frequency /Hz</text>
<text x="400.0" y="197.0" font-size="9.6" text-anchor="middle" fill="#444444" stroke="#444444" stroke-width="0.3" font-weight="bold">(b)</text>
<text x="246.0" y="94.5" font-size="9.6" text-anchor="middle" fill="#444444" stroke="#444444" stroke-width="0.3" font-weight="bold" transform="rotate(-90 246.0 94.5)">Lateral Accel. PSD/ (m<tspan dy="-3" font-size="6">2</tspan><tspan dy="3">/s</tspan><tspan dy="-3" font-size="6">4</tspan><tspan dy="3">·Hz</tspan><tspan dy="-3" font-size="6">-1</tspan><tspan dy="3">)</tspan></text>
<path d="M268.0,165.6 L268.5,165.6 L269.1,165.5 L269.6,165.6 L270.1,165.6 L270.7,165.6 L271.2,165.6 L271.7,165.6 L272.3,165.6 L272.8,165.6 L273.3,165.6 L273.9,165.6 L274.4,165.6 L274.9,165.6 L275.4,165.6 L276.0,165.6 L276.5,165.6 L277.0,165.6 L277.6,165.6 L278.1,165.6 L278.6,165.6 L279.2,165.6 L279.7,165.6 L280.2,165.6 L280.8,165.6 L281.3,165.6 L281.8,165.6 L282.4,165.6 L282.9,165.4 L283.4,165.6 L284.0,165.6 L284.5,165.6 L285.0,165.6 L285.6,165.6 L286.1,165.6 L286.6,165.6 L287.2,165.6 L287.7,165.6 L288.2,165.0 L288.7,164.6 L289.3,164.6 L289.8,164.7 L290.3,164.5 L290.9,163.8 L291.4,162.9 L291.9,162.2 L292.5,161.4 L293.0,160.4 L293.5,158.8 L294.1,157.1 L294.6,155.6 L295.1,154.6 L295.7,153.7 L296.2,152.6 L296.7,151.4 L297.3,150.6 L297.8,150.2 L298.3,150.2 L298.9,150.2 L299.4,150.1 L299.9,150.2 L300.5,150.9 L301.0,152.1 L301.5,153.5 L302.0,154.7 L302.6,155.8 L303.1,157.2 L303.6,158.7 L304.2,160.2 L304.7,161.1 L305.2,161.5 L305.8,161.8 L306.3,162.3 L306.8,163.0 L307.4,163.3 L307.9,163.4 L308.4,163.4 L309.0,163.6 L309.5,164.2 L310.0,164.6 L310.6,164.6 L311.1,164.3 L311.6,164.1 L312.2,164.3 L312.7,164.5 L313.2,164.6 L313.8,164.4 L314.3,164.4 L314.8,164.7 L315.3,165.4 L315.9,165.6 L316.4,165.6 L316.9,165.6 L317.5,165.6 L318.0,165.6 L318.5,165.6 L319.1,165.6 L319.6,165.5 L320.1,165.3 L320.7,165.6 L321.2,165.6 L321.7,165.6 L322.3,165.6 L322.8,165.6 L323.3,165.6 L323.9,165.6 L324.4,165.6 L324.9,165.6 L325.5,165.6 L326.0,165.4 L326.5,165.6 L327.1,165.6 L327.6,165.6 L328.1,165.6 L328.6,165.6 L329.2,165.6 L329.7,165.6 L330.2,165.6 L330.8,165.6 L331.3,165.6 L331.8,165.5 L332.4,165.6 L332.9,165.6 L333.4,165.6 L334.0,165.6 L334.5,165.6 L335.0,165.6 L335.6,165.6 L336.1,165.6 L336.6,165.6 L337.2,165.6 L337.7,165.6 L338.2,165.6 L338.8,165.6 L339.3,165.6 L339.8,165.6 L340.4,165.6 L340.9,165.6 L341.4,165.6 L341.9,165.6 L342.5,165.6 L343.0,165.6 L343.5,165.6 L344.1,165.6 L344.6,165.6 L345.1,165.6 L345.7,165.4 L346.2,165.6 L346.7,165.6 L347.3,165.6 L347.8,165.6 L348.3,165.6 L348.9,165.6 L349.4,165.6 L349.9,165.6 L350.5,165.6 L351.0,165.6 L351.5,165.4 L352.1,165.6 L352.6,165.6 L353.1,165.6 L353.7,165.6 L354.2,165.6 L354.7,165.6 L355.2,165.6 L355.8,165.6 L356.3,165.6 L356.8,165.6 L357.4,165.4 L357.9,165.6 L358.4,165.6 L359.0,165.6 L359.5,165.6 L360.0,165.6 L360.6,165.6 L361.1,165.6 L361.6,165.6 L362.2,165.5 L362.7,164.8 L363.2,164.3 L363.8,164.1 L364.3,164.0 L364.8,163.7 L365.4,163.3 L365.9,163.2 L366.4,163.5 L367.0,164.0 L367.5,164.2 L368.0,164.1 L368.5,164.0 L369.1,164.2 L369.6,164.6 L370.1,165.0 L370.7,165.1 L371.2,165.0 L371.7,165.3 L372.3,165.6 L372.8,165.6 L373.3,165.6 L373.9,165.6 L374.4,165.6 L374.9,165.6 L375.5,165.6 L376.0,165.6 L376.5,165.6 L377.1,165.4 L377.6,165.5 L378.1,165.6 L378.7,165.6 L379.2,165.6 L379.7,165.6 L380.3,165.6 L380.8,165.6 L381.3,165.6 L381.8,165.6 L382.4,165.6 L382.9,165.4 L383.4,165.5 L384.0,165.6 L384.5,165.6 L385.0,165.6 L385.6,165.6 L386.1,165.6 L386.6,165.6 L387.2,165.6 L387.7,165.6 L388.2,165.6 L388.8,165.4 L389.3,165.6 L389.8,165.6 L390.4,165.6 L390.9,165.6 L391.4,165.6 L392.0,165.6 L392.5,165.6 L393.0,165.6 L393.6,165.6 L394.1,165.6 L394.6,165.6 L395.1,165.6 L395.7,165.6 L396.2,165.6 L396.7,165.6 L397.3,165.6 L397.8,165.6 L398.3,165.6 L398.9,165.6 L399.4,165.6 L399.9,165.6 L400.5,165.6 L401.0,165.6 L401.5,165.6 L402.1,165.6 L402.6,165.5 L403.1,165.6 L403.7,165.6 L404.2,165.6 L404.7,165.6 L405.3,165.6 L405.8,165.6 L406.3,165.6 L406.9,165.6 L407.4,165.6 L407.9,165.6 L408.4,165.4 L409.0,165.5 L409.5,165.6 L410.0,165.6 L410.6,165.6 L411.1,165.6 L411.6,165.6 L412.2,165.6 L412.7,165.6 L413.2,165.6 L413.8,165.6 L414.3,165.4 L414.8,165.5 L415.4,165.6 L415.9,165.6 L416.4,165.6 L417.0,165.6 L417.5,165.6 L418.0,165.6 L418.6,165.6 L419.1,165.6 L419.6,165.6 L420.2,165.5 L420.7,165.6 L421.2,165.6 L421.7,165.6 L422.3,165.6 L422.8,165.6 L423.3,165.6 L423.9,165.6 L424.4,165.6 L424.9,165.6 L425.5,165.6 L426.0,165.6 L426.5,165.6 L427.1,165.6 L427.6,165.6 L428.1,165.6 L428.7,165.6 L429.2,165.6 L429.7,165.6 L430.3,165.6 L430.8,165.6 L431.3,165.6 L431.9,165.6 L432.4,165.6 L432.9,165.6 L433.5,165.5 L434.0,165.0 L434.5,164.7 L435.0,164.7 L435.6,164.8 L436.1,164.5 L436.6,163.8 L437.2,163.2 L437.7,162.9 L438.2,163.0 L438.8,163.0 L439.3,162.9 L439.8,162.9 L440.4,163.4 L440.9,164.3 L441.4,165.1 L442.0,165.5 L442.5,165.6 L443.0,165.6 L443.6,165.6 L444.1,165.6 L444.6,165.6 L445.2,165.6 L445.7,165.4 L446.2,165.4 L446.8,165.6 L447.3,165.6 L447.8,165.6 L448.3,165.6 L448.9,165.6 L449.4,165.6 L449.9,165.6 L450.5,165.6 L451.0,165.6 L451.5,165.5 L452.1,165.6 L452.6,165.6 L453.1,165.6 L453.7,165.6 L454.2,165.6 L454.7,165.6 L455.3,165.6 L455.8,165.6 L456.3,165.6 L456.9,165.6 L457.4,165.6 L457.9,165.6 L458.5,165.6 L459.0,165.6 L459.5,165.6 L460.1,165.6 L460.6,165.6 L461.1,165.6 L461.6,165.6 L462.2,165.6 L462.7,165.6 L463.2,165.6 L463.8,165.6 L464.3,165.6 L464.8,165.6 L465.4,165.5 L465.9,165.5 L466.4,165.6 L467.0,165.6 L467.5,165.6 L468.0,165.6 L468.6,165.6 L469.1,165.6 L469.6,165.6 L470.2,165.6 L470.7,165.6 L471.2,165.4 L471.8,165.4 L472.3,165.6 L472.8,165.6 L473.4,165.6 L473.9,165.6 L474.4,165.6 L474.9,165.6 L475.5,165.6 L476.0,165.6 L476.5,165.6 L477.1,165.5 L477.6,165.4 L478.1,165.6 L478.7,165.6 L479.2,165.6 L479.7,165.6 L480.3,165.6 L480.8,165.6 L481.3,165.6 L481.9,165.6 L482.4,165.6 L482.9,165.5 L483.5,165.6 L484.0,165.6 L484.5,165.6 L485.1,165.6 L485.6,165.6 L486.1,165.6 L486.7,165.6 L487.2,165.6 L487.7,165.6 L488.2,165.6 L488.8,165.6 L489.3,165.6 L489.8,165.6 L490.4,165.6 L490.9,165.6 L491.4,165.6 L492.0,165.6 L492.5,165.6 L493.0,165.6 L493.6,165.6 L494.1,165.6 L494.6,165.6 L495.2,165.6 L495.7,165.6 L496.2,165.6 L496.8,165.5 L497.3,165.4 L497.8,165.6 L498.4,165.6 L498.9,165.6 L499.4,165.6 L500.0,165.6 L500.5,165.6 L501.0,165.6 L501.5,165.6 L502.1,165.6 L502.6,165.5 L503.1,165.4 L503.7,165.6 L504.2,165.6 L504.7,165.6 L505.3,165.6 L505.8,165.6 L506.3,165.6 L506.9,165.6 L507.4,165.6 L507.9,165.6 L508.5,165.5 L509.0,165.4 L509.5,165.6 L510.1,165.6 L510.6,165.6 L511.1,165.6 L511.7,165.6 L512.2,165.6 L512.7,165.6 L513.3,165.6 L513.8,165.6 L514.3,165.6 L514.8,165.6 L515.4,165.6 L515.9,165.6 L516.4,165.6 L517.0,165.6 L517.5,165.6 L518.0,165.6 L518.6,165.6 L519.1,165.6 L519.6,165.6 L520.2,165.6 L520.7,165.6 L521.2,165.6 L521.8,165.6 L522.3,165.6 L522.8,165.5 L523.4,165.6 L523.9,165.6 L524.4,165.6 L525.0,165.6 L525.5,165.6 L526.0,165.6 L526.6,165.6 L527.1,165.6 L527.6,165.6 L528.1,165.5 L528.7,165.4 L529.2,165.6 L529.7,165.6 L530.3,165.6 L530.8,165.6 L531.3,165.6 L531.9,165.6 L532.4,165.6 L532.9,165.6 L533.5,165.6 L534.0,165.5" stroke="#e07070" stroke-width="1.3" fill="none" stroke-linejoin="round"/>
<path d="M268.0,165.6 L268.5,165.6 L269.1,165.5 L269.6,165.6 L270.1,165.6 L270.7,165.6 L271.2,165.6 L271.7,165.6 L272.3,165.6 L272.8,165.6 L273.3,165.6 L273.9,165.6 L274.4,165.6 L274.9,165.6 L275.4,165.6 L276.0,165.6 L276.5,165.6 L277.0,165.6 L277.6,165.6 L278.1,165.6 L278.6,165.6 L279.2,165.6 L279.7,165.6 L280.2,165.6 L280.8,165.6 L281.3,165.6 L281.8,165.6 L282.4,165.6 L282.9,165.4 L283.4,165.6 L284.0,165.6 L284.5,165.6 L285.0,165.6 L285.6,165.6 L286.1,165.6 L286.6,165.6 L287.2,165.6 L287.7,165.6 L288.2,165.5 L288.7,165.3 L289.3,165.6 L289.8,165.6 L290.3,165.6 L290.9,165.6 L291.4,165.6 L291.9,165.5 L292.5,165.5 L293.0,165.1 L293.5,164.2 L294.1,163.1 L294.6,162.1 L295.1,161.4 L295.7,160.6 L296.2,159.4 L296.7,157.8 L297.3,156.1 L297.8,154.7 L298.3,153.4 L298.9,151.8 L299.4,150.1 L299.9,148.5 L300.5,147.6 L301.0,147.5 L301.5,147.7 L302.0,148.1 L302.6,148.7 L303.1,149.8 L303.6,151.6 L304.2,153.5 L304.7,155.0 L305.2,156.2 L305.8,157.4 L306.3,158.8 L306.8,160.2 L307.4,161.4 L307.9,162.0 L308.4,162.5 L309.0,163.1 L309.5,163.8 L310.0,164.4 L310.6,164.3 L311.1,163.9 L311.6,163.6 L312.2,163.6 L312.7,163.6 L313.2,163.6 L313.8,163.3 L314.3,163.2 L314.8,163.6 L315.3,164.3 L315.9,164.9 L316.4,165.1 L316.9,165.1 L317.5,165.2 L318.0,165.5 L318.5,165.6 L319.1,165.6 L319.6,165.3 L320.1,165.2 L320.7,165.5 L321.2,165.6 L321.7,165.6 L322.3,165.6 L322.8,165.6 L323.3,165.6 L323.9,165.6 L324.4,165.6 L324.9,165.6 L325.5,165.6 L326.0,165.4 L326.5,165.6 L327.1,165.6 L327.6,165.6 L328.1,165.6 L328.6,165.6 L329.2,165.6 L329.7,165.6 L330.2,165.6 L330.8,165.6 L331.3,165.6 L331.8,165.5 L332.4,165.6 L332.9,165.6 L333.4,165.6 L334.0,165.6 L334.5,165.6 L335.0,165.6 L335.6,165.6 L336.1,165.6 L336.6,165.6 L337.2,165.6 L337.7,165.6 L338.2,165.6 L338.8,165.6 L339.3,165.6 L339.8,165.6 L340.4,165.6 L340.9,165.6 L341.4,165.6 L341.9,165.6 L342.5,165.6 L343.0,165.6 L343.5,165.6 L344.1,165.6 L344.6,165.6 L345.1,165.6 L345.7,165.4 L346.2,165.6 L346.7,165.6 L347.3,165.6 L347.8,165.6 L348.3,165.6 L348.9,165.6 L349.4,165.6 L349.9,165.6 L350.5,165.6 L351.0,165.6 L351.5,165.4 L352.1,165.6 L352.6,165.6 L353.1,165.6 L353.7,165.6 L354.2,165.6 L354.7,165.6 L355.2,165.6 L355.8,165.6 L356.3,165.6 L356.8,165.6 L357.4,165.4 L357.9,165.6 L358.4,165.6 L359.0,165.6 L359.5,165.6 L360.0,165.6 L360.6,165.6 L361.1,165.6 L361.6,165.6 L362.2,165.6 L362.7,164.9 L363.2,164.4 L363.8,164.3 L364.3,164.3 L364.8,164.0 L365.4,163.6 L365.9,163.5 L366.4,163.8 L367.0,164.3 L367.5,164.5 L368.0,164.3 L368.5,164.2 L369.1,164.3 L369.6,164.8 L370.1,165.1 L370.7,165.1 L371.2,165.1 L371.7,165.3 L372.3,165.6 L372.8,165.6 L373.3,165.6 L373.9,165.6 L374.4,165.6 L374.9,165.6 L375.5,165.6 L376.0,165.6 L376.5,165.6 L377.1,165.4 L377.6,165.5 L378.1,165.6 L378.7,165.6 L379.2,165.6 L379.7,165.6 L380.3,165.6 L380.8,165.6 L381.3,165.6 L381.8,165.6 L382.4,165.6 L382.9,165.4 L383.4,165.5 L384.0,165.6 L384.5,165.6 L385.0,165.6 L385.6,165.6 L386.1,165.6 L386.6,165.6 L387.2,165.6 L387.7,165.6 L388.2,165.6 L388.8,165.4 L389.3,165.6 L389.8,165.6 L390.4,165.6 L390.9,165.6 L391.4,165.6 L392.0,165.6 L392.5,165.6 L393.0,165.6 L393.6,165.6 L394.1,165.6 L394.6,165.6 L395.1,165.6 L395.7,165.6 L396.2,165.6 L396.7,165.6 L397.3,165.6 L397.8,165.6 L398.3,165.6 L398.9,165.6 L399.4,165.6 L399.9,165.6 L400.5,165.6 L401.0,165.6 L401.5,165.6 L402.1,165.6 L402.6,165.5 L403.1,165.6 L403.7,165.6 L404.2,165.6 L404.7,165.6 L405.3,165.6 L405.8,165.6 L406.3,165.6 L406.9,165.6 L407.4,165.6 L407.9,165.6 L408.4,165.4 L409.0,165.5 L409.5,165.6 L410.0,165.6 L410.6,165.6 L411.1,165.6 L411.6,165.6 L412.2,165.6 L412.7,165.6 L413.2,165.6 L413.8,165.6 L414.3,165.4 L414.8,165.5 L415.4,165.6 L415.9,165.6 L416.4,165.6 L417.0,165.6 L417.5,165.6 L418.0,165.6 L418.6,165.6 L419.1,165.6 L419.6,165.6 L420.2,165.5 L420.7,165.6 L421.2,165.6 L421.7,165.6 L422.3,165.6 L422.8,165.6 L423.3,165.6 L423.9,165.6 L424.4,165.6 L424.9,165.6 L425.5,165.6 L426.0,165.6 L426.5,165.6 L427.1,165.6 L427.6,165.6 L428.1,165.6 L428.7,165.6 L429.2,165.6 L429.7,165.6 L430.3,165.6 L430.8,165.6 L431.3,165.6 L431.9,165.6 L432.4,165.6 L432.9,165.6 L433.5,165.6 L434.0,165.2 L434.5,165.0 L435.0,165.2 L435.6,165.4 L436.1,165.2 L436.6,164.7 L437.2,164.2 L437.7,164.0 L438.2,164.1 L438.8,164.1 L439.3,164.0 L439.8,163.8 L440.4,164.1 L440.9,164.8 L441.4,165.5 L442.0,165.6 L442.5,165.6 L443.0,165.6 L443.6,165.6 L444.1,165.6 L444.6,165.6 L445.2,165.6 L445.7,165.4 L446.2,165.4 L446.8,165.6 L447.3,165.6 L447.8,165.6 L448.3,165.6 L448.9,165.6 L449.4,165.6 L449.9,165.6 L450.5,165.6 L451.0,165.6 L451.5,165.5 L452.1,165.6 L452.6,165.6 L453.1,165.6 L453.7,165.6 L454.2,165.6 L454.7,165.6 L455.3,165.6 L455.8,165.6 L456.3,165.6 L456.9,165.6 L457.4,165.6 L457.9,165.6 L458.5,165.6 L459.0,165.6 L459.5,165.6 L460.1,165.6 L460.6,165.6 L461.1,165.6 L461.6,165.6 L462.2,165.6 L462.7,165.6 L463.2,165.6 L463.8,165.6 L464.3,165.6 L464.8,165.6 L465.4,165.5 L465.9,165.5 L466.4,165.6 L467.0,165.6 L467.5,165.6 L468.0,165.6 L468.6,165.6 L469.1,165.6 L469.6,165.6 L470.2,165.6 L470.7,165.6 L471.2,165.4 L471.8,165.4 L472.3,165.6 L472.8,165.6 L473.4,165.6 L473.9,165.6 L474.4,165.6 L474.9,165.6 L475.5,165.6 L476.0,165.6 L476.5,165.6 L477.1,165.5 L477.6,165.4 L478.1,165.6 L478.7,165.6 L479.2,165.6 L479.7,165.6 L480.3,165.6 L480.8,165.6 L481.3,165.6 L481.9,165.6 L482.4,165.6 L482.9,165.5 L483.5,165.6 L484.0,165.6 L484.5,165.6 L485.1,165.6 L485.6,165.6 L486.1,165.6 L486.7,165.6 L487.2,165.6 L487.7,165.6 L488.2,165.6 L488.8,165.6 L489.3,165.6 L489.8,165.6 L490.4,165.6 L490.9,165.6 L491.4,165.6 L492.0,165.6 L492.5,165.6 L493.0,165.6 L493.6,165.6 L494.1,165.6 L494.6,165.6 L495.2,165.6 L495.7,165.6 L496.2,165.6 L496.8,165.5 L497.3,165.4 L497.8,165.6 L498.4,165.6 L498.9,165.6 L499.4,165.6 L500.0,165.6 L500.5,165.6 L501.0,165.6 L501.5,165.6 L502.1,165.6 L502.6,165.5 L503.1,165.4 L503.7,165.6 L504.2,165.6 L504.7,165.6 L505.3,165.6 L505.8,165.6 L506.3,165.6 L506.9,165.6 L507.4,165.6 L507.9,165.6 L508.5,165.5 L509.0,165.4 L509.5,165.6 L510.1,165.6 L510.6,165.6 L511.1,165.6 L511.7,165.6 L512.2,165.6 L512.7,165.6 L513.3,165.6 L513.8,165.6 L514.3,165.6 L514.8,165.6 L515.4,165.6 L515.9,165.6 L516.4,165.6 L517.0,165.6 L517.5,165.6 L518.0,165.6 L518.6,165.6 L519.1,165.6 L519.6,165.6 L520.2,165.6 L520.7,165.6 L521.2,165.6 L521.8,165.6 L522.3,165.6 L522.8,165.5 L523.4,165.6 L523.9,165.6 L524.4,165.6 L525.0,165.6 L525.5,165.6 L526.0,165.6 L526.6,165.6 L527.1,165.6 L527.6,165.6 L528.1,165.5 L528.7,165.4 L529.2,165.6 L529.7,165.6 L530.3,165.6 L530.8,165.6 L531.3,165.6 L531.9,165.6 L532.4,165.6 L532.9,165.6 L533.5,165.6 L534.0,165.5" stroke="#2a2a2a" stroke-width="1.0" fill="none" stroke-dasharray="2.5,1.5" stroke-linejoin="round"/>
<path d="M268.0,165.6 L268.5,165.6 L269.1,165.5 L269.6,165.6 L270.1,165.6 L270.7,165.6 L271.2,165.6 L271.7,165.6 L272.3,165.6 L272.8,165.6 L273.3,165.6 L273.9,165.6 L274.4,165.6 L274.9,165.6 L275.4,165.6 L276.0,165.6 L276.5,165.6 L277.0,165.6 L277.6,165.6 L278.1,165.6 L278.6,165.6 L279.2,165.6 L279.7,165.6 L280.2,165.6 L280.8,165.6 L281.3,165.6 L281.8,165.6 L282.4,165.6 L282.9,165.4 L283.4,165.6 L284.0,165.6 L284.5,165.6 L285.0,165.6 L285.6,165.6 L286.1,165.6 L286.6,165.6 L287.2,165.6 L287.7,165.6 L288.2,165.5 L288.7,165.3 L289.3,165.6 L289.8,165.6 L290.3,165.6 L290.9,165.6 L291.4,165.0 L291.9,164.3 L292.5,163.5 L293.0,161.8 L293.5,159.2 L294.1,155.6 L294.6,151.3 L295.1,146.4 L295.7,140.6 L296.2,133.6 L296.7,125.8 L297.3,117.7 L297.8,110.3 L298.3,103.8 L298.9,98.4 L299.4,94.5 L299.9,92.9 L300.5,93.9 L301.0,97.6 L301.5,103.2 L302.0,110.0 L302.6,117.5 L303.1,125.5 L303.6,133.6 L304.2,141.1 L304.7,147.1 L305.2,151.8 L305.8,155.3 L306.3,158.3 L306.8,160.5 L307.4,162.0 L307.9,162.6 L308.4,162.8 L309.0,163.1 L309.5,163.6 L310.0,163.9 L310.6,163.7 L311.1,163.2 L311.6,162.9 L312.2,163.0 L312.7,163.3 L313.2,163.4 L313.8,163.4 L314.3,163.5 L314.8,164.0 L315.3,164.8 L315.9,165.4 L316.4,165.6 L316.9,165.5 L317.5,165.6 L318.0,165.6 L318.5,165.6 L319.1,165.6 L319.6,165.5 L320.1,165.3 L320.7,165.6 L321.2,165.6 L321.7,165.6 L322.3,165.6 L322.8,165.6 L323.3,165.6 L323.9,165.6 L324.4,165.6 L324.9,165.6 L325.5,165.6 L326.0,165.4 L326.5,165.6 L327.1,165.6 L327.6,165.6 L328.1,165.6 L328.6,165.6 L329.2,165.6 L329.7,165.6 L330.2,165.6 L330.8,165.6 L331.3,165.6 L331.8,165.5 L332.4,165.6 L332.9,165.6 L333.4,165.6 L334.0,165.6 L334.5,165.6 L335.0,165.6 L335.6,165.6 L336.1,165.6 L336.6,165.6 L337.2,165.6 L337.7,165.6 L338.2,165.6 L338.8,165.6 L339.3,165.6 L339.8,165.6 L340.4,165.6 L340.9,165.6 L341.4,165.6 L341.9,165.6 L342.5,165.6 L343.0,165.6 L343.5,165.6 L344.1,165.6 L344.6,165.6 L345.1,165.6 L345.7,165.4 L346.2,165.6 L346.7,165.6 L347.3,165.6 L347.8,165.6 L348.3,165.6 L348.9,165.6 L349.4,165.6 L349.9,165.6 L350.5,165.6 L351.0,165.6 L351.5,165.4 L352.1,165.6 L352.6,165.6 L353.1,165.6 L353.7,165.6 L354.2,165.6 L354.7,165.6 L355.2,165.6 L355.8,165.6 L356.3,165.6 L356.8,165.6 L357.4,165.4 L357.9,165.6 L358.4,165.6 L359.0,165.6 L359.5,165.6 L360.0,165.6 L360.6,165.6 L361.1,165.6 L361.6,165.6 L362.2,165.5 L362.7,164.8 L363.2,164.3 L363.8,164.1 L364.3,164.0 L364.8,163.7 L365.4,163.3 L365.9,163.2 L366.4,163.5 L367.0,164.0 L367.5,164.2 L368.0,164.1 L368.5,164.0 L369.1,164.2 L369.6,164.6 L370.1,165.0 L370.7,165.1 L371.2,165.0 L371.7,165.3 L372.3,165.6 L372.8,165.6 L373.3,165.6 L373.9,165.6 L374.4,165.6 L374.9,165.6 L375.5,165.6 L376.0,165.6 L376.5,165.6 L377.1,165.4 L377.6,165.5 L378.1,165.6 L378.7,165.6 L379.2,165.6 L379.7,165.6 L380.3,165.6 L380.8,165.6 L381.3,165.6 L381.8,165.6 L382.4,165.6 L382.9,165.4 L383.4,165.5 L384.0,165.6 L384.5,165.6 L385.0,165.6 L385.6,165.6 L386.1,165.6 L386.6,165.6 L387.2,165.6 L387.7,165.6 L388.2,165.6 L388.8,165.4 L389.3,165.6 L389.8,165.6 L390.4,165.6 L390.9,165.6 L391.4,165.6 L392.0,165.6 L392.5,165.6 L393.0,165.6 L393.6,165.6 L394.1,165.6 L394.6,165.6 L395.1,165.6 L395.7,165.6 L396.2,165.6 L396.7,165.6 L397.3,165.6 L397.8,165.6 L398.3,165.6 L398.9,165.6 L399.4,165.6 L399.9,165.6 L400.5,165.6 L401.0,165.6 L401.5,165.6 L402.1,165.6 L402.6,165.5 L403.1,165.6 L403.7,165.6 L404.2,165.6 L404.7,165.6 L405.3,165.6 L405.8,165.6 L406.3,165.6 L406.9,165.6 L407.4,165.6 L407.9,165.6 L408.4,165.4 L409.0,165.5 L409.5,165.6 L410.0,165.6 L410.6,165.6 L411.1,165.6 L411.6,165.6 L412.2,165.6 L412.7,165.6 L413.2,165.6 L413.8,165.6 L414.3,165.4 L414.8,165.5 L415.4,165.6 L415.9,165.6 L416.4,165.6 L417.0,165.6 L417.5,165.6 L418.0,165.6 L418.6,165.6 L419.1,165.6 L419.6,165.6 L420.2,165.5 L420.7,165.6 L421.2,165.6 L421.7,165.6 L422.3,165.6 L422.8,165.6 L423.3,165.6 L423.9,165.6 L424.4,165.6 L424.9,165.6 L425.5,165.6 L426.0,165.6 L426.5,165.6 L427.1,165.6 L427.6,165.6 L428.1,165.6 L428.7,165.6 L429.2,165.6 L429.7,165.6 L430.3,165.6 L430.8,165.6 L431.3,165.6 L431.9,165.6 L432.4,165.6 L432.9,165.6 L433.5,165.6 L434.0,165.2 L434.5,165.0 L435.0,165.2 L435.6,165.4 L436.1,165.2 L436.6,164.7 L437.2,164.2 L437.7,164.0 L438.2,164.1 L438.8,164.1 L439.3,164.0 L439.8,163.8 L440.4,164.1 L440.9,164.8 L441.4,165.5 L442.0,165.6 L442.5,165.6 L443.0,165.6 L443.6,165.6 L444.1,165.6 L444.6,165.6 L445.2,165.6 L445.7,165.4 L446.2,165.4 L446.8,165.6 L447.3,165.6 L447.8,165.6 L448.3,165.6 L448.9,165.6 L449.4,165.6 L449.9,165.6 L450.5,165.6 L451.0,165.6 L451.5,165.5 L452.1,165.6 L452.6,165.6 L453.1,165.6 L453.7,165.6 L454.2,165.6 L454.7,165.6 L455.3,165.6 L455.8,165.6 L456.3,165.6 L456.9,165.6 L457.4,165.6 L457.9,165.6 L458.5,165.6 L459.0,165.6 L459.5,165.6 L460.1,165.6 L460.6,165.6 L461.1,165.6 L461.6,165.6 L462.2,165.6 L462.7,165.6 L463.2,165.6 L463.8,165.6 L464.3,165.6 L464.8,165.6 L465.4,165.5 L465.9,165.5 L466.4,165.6 L467.0,165.6 L467.5,165.6 L468.0,165.6 L468.6,165.6 L469.1,165.6 L469.6,165.6 L470.2,165.6 L470.7,165.6 L471.2,165.4 L471.8,165.4 L472.3,165.6 L472.8,165.6 L473.4,165.6 L473.9,165.6 L474.4,165.6 L474.9,165.6 L475.5,165.6 L476.0,165.6 L476.5,165.6 L477.1,165.5 L477.6,165.4 L478.1,165.6 L478.7,165.6 L479.2,165.6 L479.7,165.6 L480.3,165.6 L480.8,165.6 L481.3,165.6 L481.9,165.6 L482.4,165.6 L482.9,165.5 L483.5,165.6 L484.0,165.6 L484.5,165.6 L485.1,165.6 L485.6,165.6 L486.1,165.6 L486.7,165.6 L487.2,165.6 L487.7,165.6 L488.2,165.6 L488.8,165.6 L489.3,165.6 L489.8,165.6 L490.4,165.6 L490.9,165.6 L491.4,165.6 L492.0,165.6 L492.5,165.6 L493.0,165.6 L493.6,165.6 L494.1,165.6 L494.6,165.6 L495.2,165.6 L495.7,165.6 L496.2,165.6 L496.8,165.5 L497.3,165.4 L497.8,165.6 L498.4,165.6 L498.9,165.6 L499.4,165.6 L500.0,165.6 L500.5,165.6 L501.0,165.6 L501.5,165.6 L502.1,165.6 L502.6,165.5 L503.1,165.4 L503.7,165.6 L504.2,165.6 L504.7,165.6 L505.3,165.6 L505.8,165.6 L506.3,165.6 L506.9,165.6 L507.4,165.6 L507.9,165.6 L508.5,165.5 L509.0,165.4 L509.5,165.6 L510.1,165.6 L510.6,165.6 L511.1,165.6 L511.7,165.6 L512.2,165.6 L512.7,165.6 L513.3,165.6 L513.8,165.6 L514.3,165.6 L514.8,165.6 L515.4,165.6 L515.9,165.6 L516.4,165.6 L517.0,165.6 L517.5,165.6 L518.0,165.6 L518.6,165.6 L519.1,165.6 L519.6,165.6 L520.2,165.6 L520.7,165.6 L521.2,165.6 L521.8,165.6 L522.3,165.6 L522.8,165.5 L523.4,165.6 L523.9,165.6 L524.4,165.6 L525.0,165.6 L525.5,165.6 L526.0,165.6 L526.6,165.6 L527.1,165.6 L527.6,165.6 L528.1,165.5 L528.7,165.4 L529.2,165.6 L529.7,165.6 L530.3,165.6 L530.8,165.6 L531.3,165.6 L531.9,165.6 L532.4,165.6 L532.9,165.6 L533.5,165.6 L534.0,165.5" stroke="#5a80d0" stroke-width="1.1" fill="none" stroke-dasharray="3,1.2,1,1.2" stroke-linejoin="round"/>
<path d="M268.0,165.6 L268.5,165.6 L269.1,165.5 L269.6,165.6 L270.1,165.6 L270.7,165.6 L271.2,165.6 L271.7,165.6 L272.3,165.6 L272.8,165.6 L273.3,165.6 L273.9,165.6 L274.4,165.6 L274.9,165.6 L275.4,165.6 L276.0,165.6 L276.5,165.6 L277.0,165.6 L277.6,165.6 L278.1,165.6 L278.6,165.6 L279.2,165.6 L279.7,165.6 L280.2,165.6 L280.8,165.6 L281.3,165.6 L281.8,165.6 L282.4,165.6 L282.9,165.5 L283.4,165.6 L284.0,165.6 L284.5,165.6 L285.0,165.6 L285.6,165.6 L286.1,165.6 L286.6,165.6 L287.2,165.6 L287.7,165.6 L288.2,165.5 L288.7,165.4 L289.3,165.6 L289.8,165.6 L290.3,165.6 L290.9,165.6 L291.4,165.4 L291.9,164.8 L292.5,163.9 L293.0,162.0 L293.5,158.7 L294.1,153.7 L294.6,147.1 L295.1,138.5 L295.7,127.5 L296.2,113.7 L296.7,97.8 L297.3,80.9 L297.8,64.6 L298.3,50.3 L298.9,39.2 L299.4,32.5 L299.9,31.4 L300.5,36.4 L301.0,46.7 L301.5,60.8 L302.0,76.9 L302.6,93.5 L303.1,109.5 L303.6,124.0 L304.2,136.1 L304.7,145.2 L305.2,151.4 L305.8,155.7 L306.3,158.6 L306.8,160.6 L307.4,161.7 L307.9,162.0 L308.4,162.1 L309.0,162.3 L309.5,162.7 L310.0,163.1 L310.6,163.0 L311.1,162.7 L311.6,162.5 L312.2,162.6 L312.7,162.9 L313.2,163.0 L313.8,162.9 L314.3,162.9 L314.8,163.4 L315.3,164.2 L315.9,164.7 L316.4,164.9 L316.9,164.8 L317.5,164.9 L318.0,165.3 L318.5,165.5 L319.1,165.4 L319.6,165.1 L320.1,165.0 L320.7,165.3 L321.2,165.6 L321.7,165.6 L322.3,165.6 L322.8,165.6 L323.3,165.6 L323.9,165.6 L324.4,165.6 L324.9,165.6 L325.5,165.6 L326.0,165.4 L326.5,165.6 L327.1,165.6 L327.6,165.6 L328.1,165.6 L328.6,165.6 L329.2,165.6 L329.7,165.6 L330.2,165.6 L330.8,165.6 L331.3,165.6 L331.8,165.5 L332.4,165.6 L332.9,165.6 L333.4,165.6 L334.0,165.6 L334.5,165.6 L335.0,165.6 L335.6,165.6 L336.1,165.6 L336.6,165.6 L337.2,165.6 L337.7,165.6 L338.2,165.6 L338.8,165.6 L339.3,165.6 L339.8,165.6 L340.4,165.6 L340.9,165.6 L341.4,165.6 L341.9,165.6 L342.5,165.6 L343.0,165.6 L343.5,165.6 L344.1,165.6 L344.6,165.6 L345.1,165.6 L345.7,165.4 L346.2,165.6 L346.7,165.6 L347.3,165.6 L347.8,165.6 L348.3,165.6 L348.9,165.6 L349.4,165.6 L349.9,165.6 L350.5,165.6 L351.0,165.6 L351.5,165.4 L352.1,165.6 L352.6,165.6 L353.1,165.6 L353.7,165.6 L354.2,165.6 L354.7,165.6 L355.2,165.6 L355.8,165.6 L356.3,165.6 L356.8,165.6 L357.4,165.4 L357.9,165.6 L358.4,165.6 L359.0,165.6 L359.5,165.6 L360.0,165.6 L360.6,165.6 L361.1,165.6 L361.6,165.6 L362.2,165.6 L362.7,164.9 L363.2,164.4 L363.8,164.3 L364.3,164.3 L364.8,164.0 L365.4,163.6 L365.9,163.5 L366.4,163.8 L367.0,164.3 L367.5,164.5 L368.0,164.3 L368.5,164.2 L369.1,164.3 L369.6,164.8 L370.1,165.1 L370.7,165.1 L371.2,165.1 L371.7,165.3 L372.3,165.6 L372.8,165.6 L373.3,165.6 L373.9,165.6 L374.4,165.6 L374.9,165.6 L375.5,165.6 L376.0,165.6 L376.5,165.6 L377.1,165.4 L377.6,165.5 L378.1,165.6 L378.7,165.6 L379.2,165.6 L379.7,165.6 L380.3,165.6 L380.8,165.6 L381.3,165.6 L381.8,165.6 L382.4,165.6 L382.9,165.4 L383.4,165.5 L384.0,165.6 L384.5,165.6 L385.0,165.6 L385.6,165.6 L386.1,165.6 L386.6,165.6 L387.2,165.6 L387.7,165.6 L388.2,165.6 L388.8,165.4 L389.3,165.6 L389.8,165.6 L390.4,165.6 L390.9,165.6 L391.4,165.6 L392.0,165.6 L392.5,165.6 L393.0,165.6 L393.6,165.6 L394.1,165.6 L394.6,165.6 L395.1,165.6 L395.7,165.6 L396.2,165.6 L396.7,165.6 L397.3,165.6 L397.8,165.6 L398.3,165.6 L398.9,165.6 L399.4,165.6 L399.9,165.6 L400.5,165.6 L401.0,165.6 L401.5,165.6 L402.1,165.6 L402.6,165.5 L403.1,165.6 L403.7,165.6 L404.2,165.6 L404.7,165.6 L405.3,165.6 L405.8,165.6 L406.3,165.6 L406.9,165.6 L407.4,165.6 L407.9,165.6 L408.4,165.4 L409.0,165.5 L409.5,165.6 L410.0,165.6 L410.6,165.6 L411.1,165.6 L411.6,165.6 L412.2,165.6 L412.7,165.6 L413.2,165.6 L413.8,165.6 L414.3,165.4 L414.8,165.5 L415.4,165.6 L415.9,165.6 L416.4,165.6 L417.0,165.6 L417.5,165.6 L418.0,165.6 L418.6,165.6 L419.1,165.6 L419.6,165.6 L420.2,165.5 L420.7,165.6 L421.2,165.6 L421.7,165.6 L422.3,165.6 L422.8,165.6 L423.3,165.6 L423.9,165.6 L424.4,165.6 L424.9,165.6 L425.5,165.6 L426.0,165.6 L426.5,165.6 L427.1,165.6 L427.6,165.6 L428.1,165.6 L428.7,165.6 L429.2,165.6 L429.7,165.6 L430.3,165.6 L430.8,165.6 L431.3,165.6 L431.9,165.6 L432.4,165.6 L432.9,165.6 L433.5,165.6 L434.0,165.2 L434.5,165.1 L435.0,165.3 L435.6,165.5 L436.1,165.4 L436.6,164.9 L437.2,164.5 L437.7,164.3 L438.2,164.4 L438.8,164.4 L439.3,164.2 L439.8,164.1 L440.4,164.3 L440.9,165.0 L441.4,165.6 L442.0,165.6 L442.5,165.6 L443.0,165.6 L443.6,165.6 L444.1,165.6 L444.6,165.6 L445.2,165.6 L445.7,165.4 L446.2,165.4 L446.8,165.6 L447.3,165.6 L447.8,165.6 L448.3,165.6 L448.9,165.6 L449.4,165.6 L449.9,165.6 L450.5,165.6 L451.0,165.6 L451.5,165.5 L452.1,165.6 L452.6,165.6 L453.1,165.6 L453.7,165.6 L454.2,165.6 L454.7,165.6 L455.3,165.6 L455.8,165.6 L456.3,165.6 L456.9,165.6 L457.4,165.6 L457.9,165.6 L458.5,165.6 L459.0,165.6 L459.5,165.6 L460.1,165.6 L460.6,165.6 L461.1,165.6 L461.6,165.6 L462.2,165.6 L462.7,165.6 L463.2,165.6 L463.8,165.6 L464.3,165.6 L464.8,165.6 L465.4,165.5 L465.9,165.5 L466.4,165.6 L467.0,165.6 L467.5,165.6 L468.0,165.6 L468.6,165.6 L469.1,165.6 L469.6,165.6 L470.2,165.6 L470.7,165.6 L471.2,165.4 L471.8,165.4 L472.3,165.6 L472.8,165.6 L473.4,165.6 L473.9,165.6 L474.4,165.6 L474.9,165.6 L475.5,165.6 L476.0,165.6 L476.5,165.6 L477.1,165.5 L477.6,165.4 L478.1,165.6 L478.7,165.6 L479.2,165.6 L479.7,165.6 L480.3,165.6 L480.8,165.6 L481.3,165.6 L481.9,165.6 L482.4,165.6 L482.9,165.5 L483.5,165.6 L484.0,165.6 L484.5,165.6 L485.1,165.6 L485.6,165.6 L486.1,165.6 L486.7,165.6 L487.2,165.6 L487.7,165.6 L488.2,165.6 L488.8,165.6 L489.3,165.6 L489.8,165.6 L490.4,165.6 L490.9,165.6 L491.4,165.6 L492.0,165.6 L492.5,165.6 L493.0,165.6 L493.6,165.6 L494.1,165.6 L494.6,165.6 L495.2,165.6 L495.7,165.6 L496.2,165.6 L496.8,165.5 L497.3,165.4 L497.8,165.6 L498.4,165.6 L498.9,165.6 L499.4,165.6 L500.0,165.6 L500.5,165.6 L501.0,165.6 L501.5,165.6 L502.1,165.6 L502.6,165.5 L503.1,165.4 L503.7,165.6 L504.2,165.6 L504.7,165.6 L505.3,165.6 L505.8,165.6 L506.3,165.6 L506.9,165.6 L507.4,165.6 L507.9,165.6 L508.5,165.5 L509.0,165.4 L509.5,165.6 L510.1,165.6 L510.6,165.6 L511.1,165.6 L511.7,165.6 L512.2,165.6 L512.7,165.6 L513.3,165.6 L513.8,165.6 L514.3,165.6 L514.8,165.6 L515.4,165.6 L515.9,165.6 L516.4,165.6 L517.0,165.6 L517.5,165.6 L518.0,165.6 L518.6,165.6 L519.1,165.6 L519.6,165.6 L520.2,165.6 L520.7,165.6 L521.2,165.6 L521.8,165.6 L522.3,165.6 L522.8,165.5 L523.4,165.6 L523.9,165.6 L524.4,165.6 L525.0,165.6 L525.5,165.6 L526.0,165.6 L526.6,165.6 L527.1,165.6 L527.6,165.6 L528.1,165.5 L528.7,165.4 L529.2,165.6 L529.7,165.6 L530.3,165.6 L530.8,165.6 L531.3,165.6 L531.9,165.6 L532.4,165.6 L532.9,165.6 L533.5,165.6 L534.0,165.5" stroke="#b080cc" stroke-width="1.3" fill="none" stroke-linejoin="round"/>
<line x1="346.5" y1="65.0" x2="305.0" y2="32.5" stroke="#111" stroke-width="1.4"/>
<path d="M301.5,30.5 L312.0,35.0 L307.5,37.5 Z" stroke="none" stroke-width="1" fill="#111"/>
<text x="314.5" y="75.5" font-size="9.5" text-anchor="start" fill="#444444" stroke="#444444" stroke-width="0.3" textLength="130" lengthAdjust="spacingAndGlyphs">Ca. 5.96 Hz Intermittent vibration</text>
<line x1="435.0" y1="28.0" x2="465.0" y2="28.0" stroke="#d85a5a" stroke-width="1.5"/>
<text x="466.0" y="31.2" font-size="9.5" text-anchor="start" fill="#444444" stroke="#444444" stroke-width="0.3" textLength="45" lengthAdjust="spacingAndGlyphs"><tspan font-style="italic">v</tspan>=500 km/h</text>
<line x1="435.0" y1="39.5" x2="465.0" y2="39.5" stroke="#222" stroke-width="1.2" stroke-dasharray="3,1.8"/>
<text x="466.0" y="42.7" font-size="9.5" text-anchor="start" fill="#444444" stroke="#444444" stroke-width="0.3" textLength="45" lengthAdjust="spacingAndGlyphs"><tspan font-style="italic">v</tspan>=550 km/h</text>
<line x1="435.0" y1="51.0" x2="465.0" y2="51.0" stroke="#5a80c8" stroke-width="1.0" stroke-dasharray="4,2.5,1,2.5"/>
<text x="466.0" y="54.2" font-size="9.5" text-anchor="start" fill="#444444" stroke="#444444" stroke-width="0.3" textLength="45" lengthAdjust="spacingAndGlyphs"><tspan font-style="italic">v</tspan>=575 km/h</text>
<line x1="435.0" y1="62.5" x2="465.0" y2="62.5" stroke="#8058b8" stroke-width="1.5"/>
<text x="466.0" y="65.7" font-size="9.5" text-anchor="start" fill="#444444" stroke="#444444" stroke-width="0.3" textLength="45" lengthAdjust="spacingAndGlyphs"><tspan font-style="italic">v</tspan>=600 km/h</text>
<text x="530.0" y="148.5" font-size="9.5" text-anchor="end" fill="#444444" stroke="#444444" stroke-width="0.3"><tspan font-style="italic">λ</tspan><tspan font-size="6" dy="1.5" font-style="italic">e</tspan><tspan dy="-1.5">=0.16</tspan></text>
<text x="530.0" y="159.6" font-size="9.5" text-anchor="end" fill="#444444" stroke="#444444" stroke-width="0.3" textLength="65.5" lengthAdjust="spacingAndGlyphs">Rear bogie frame</text>
<rect x="31" y="211" width="228" height="118" fill="none" stroke="#cfcfcf" stroke-width="1.2"/>
<text x="27.5" y="214.0" font-size="8.6" text-anchor="end" fill="#444444" stroke="#444444" stroke-width="0.3" font-weight="bold">2.0</text>
<text x="27.5" y="243.5" font-size="8.6" text-anchor="end" fill="#444444" stroke="#444444" stroke-width="0.3" font-weight="bold">1.0</text>
<text x="27.5" y="255.3" font-size="8.6" text-anchor="end" fill="#4a4ad8" stroke="#4a4ad8" stroke-width="0.3" font-weight="bold">0.6</text>
<text x="27.5" y="273.0" font-size="8.6" text-anchor="end" fill="#444444" stroke="#444444" stroke-width="0.3" font-weight="bold">0</text>
<text x="27.5" y="290.7" font-size="8.6" text-anchor="end" fill="#e04040" stroke="#e04040" stroke-width="0.3" font-weight="bold">−0.6</text>
<text x="27.5" y="302.5" font-size="8.6" text-anchor="end" fill="#444444" stroke="#444444" stroke-width="0.3" font-weight="bold">−1.0</text>
<text x="27.5" y="332.0" font-size="8.6" text-anchor="end" fill="#444444" stroke="#444444" stroke-width="0.3" font-weight="bold">−2.0</text>
<line x1="29.0" y1="211.0" x2="31.0" y2="211.0" stroke="#cfcfcf" stroke-width="1"/>
<line x1="29.0" y1="240.5" x2="31.0" y2="240.5" stroke="#cfcfcf" stroke-width="1"/>
<line x1="29.0" y1="270.0" x2="31.0" y2="270.0" stroke="#cfcfcf" stroke-width="1"/>
<line x1="29.0" y1="299.5" x2="31.0" y2="299.5" stroke="#cfcfcf" stroke-width="1"/>
<line x1="29.0" y1="329.0" x2="31.0" y2="329.0" stroke="#cfcfcf" stroke-width="1"/>
<line x1="29.5" y1="225.8" x2="31.0" y2="225.8" stroke="#cfcfcf" stroke-width="0.8"/>
<line x1="29.5" y1="255.2" x2="31.0" y2="255.2" stroke="#cfcfcf" stroke-width="0.8"/>
<line x1="29.5" y1="284.8" x2="31.0" y2="284.8" stroke="#cfcfcf" stroke-width="0.8"/>
<line x1="29.5" y1="314.2" x2="31.0" y2="314.2" stroke="#cfcfcf" stroke-width="0.8"/>
<text x="31.0" y="338.0" font-size="9" text-anchor="middle" fill="#444444" stroke="#444444" stroke-width="0.3" font-weight="bold">0.0</text>
<text x="77.6" y="338.0" font-size="9" text-anchor="middle" fill="#444444" stroke="#444444" stroke-width="0.3" font-weight="bold" textLength="24.5" lengthAdjust="spacingAndGlyphs">1000.0</text>
<text x="123.2" y="338.0" font-size="9" text-anchor="middle" fill="#444444" stroke="#444444" stroke-width="0.3" font-weight="bold" textLength="24.5" lengthAdjust="spacingAndGlyphs">2000.0</text>
<text x="168.8" y="338.0" font-size="9" text-anchor="middle" fill="#444444" stroke="#444444" stroke-width="0.3" font-weight="bold" textLength="24.5" lengthAdjust="spacingAndGlyphs">3000.0</text>
<text x="214.4" y="338.0" font-size="9" text-anchor="middle" fill="#444444" stroke="#444444" stroke-width="0.3" font-weight="bold" textLength="24.5" lengthAdjust="spacingAndGlyphs">4000.0</text>
<text x="257.0" y="338.0" font-size="9" text-anchor="middle" fill="#444444" stroke="#444444" stroke-width="0.3" font-weight="bold" textLength="24.5" lengthAdjust="spacingAndGlyphs">5000.0</text>
<text x="140.0" y="347.5" font-size="9.6" text-anchor="middle" fill="#444444" stroke="#444444" stroke-width="0.3" font-weight="bold" textLength="46" lengthAdjust="spacingAndGlyphs">Mileage /m</text>
<text x="131.0" y="359.0" font-size="9.6" text-anchor="middle" fill="#444444" stroke="#444444" stroke-width="0.3" font-weight="bold">(c)</text>
<text x="12.0" y="268.5" font-size="9.6" text-anchor="middle" fill="#444444" stroke="#444444" stroke-width="0.3" font-weight="bold" textLength="105" lengthAdjust="spacingAndGlyphs" transform="rotate(-90 12.0 268.5)">Wheel spin creepage /m<tspan dy="-3" font-size="6">-1</tspan></text>
<line x1="31.0" y1="252.3" x2="259.0" y2="252.3" stroke="#6a6ae0" stroke-width="0.8" stroke-dasharray="1.5,1"/>
<line x1="31.0" y1="287.7" x2="259.0" y2="287.7" stroke="#e87070" stroke-width="0.8" stroke-dasharray="1.5,1"/>
<text x="35.0" y="220.0" font-size="9.5" text-anchor="start" fill="#444444" stroke="#444444" stroke-width="0.3" textLength="97" lengthAdjust="spacingAndGlyphs">Simulated transient value</text>
<line x1="185.0" y1="216.3" x2="207.5" y2="216.3" stroke="#4c5ee0" stroke-width="1.3"/>
<line x1="185.0" y1="224.0" x2="207.5" y2="224.0" stroke="#e8404a" stroke-width="1.3"/>
<text x="208.5" y="219.5" font-size="9.8" text-anchor="start" fill="#444444" stroke="#444444" stroke-width="0.3" textLength="46.5" lengthAdjust="spacingAndGlyphs">Right wheel</text>
<text x="208.5" y="227.8" font-size="9.8" text-anchor="start" fill="#444444" stroke="#444444" stroke-width="0.3" textLength="40.5" lengthAdjust="spacingAndGlyphs">Left wheel</text>
<text x="256.5" y="325.0" font-size="9.5" text-anchor="end" fill="#444444" stroke="#444444" stroke-width="0.3"><tspan font-style="italic">λ</tspan><tspan font-size="6" dy="1.5" font-style="italic">e</tspan><tspan dy="-1.5">=0.16, </tspan><tspan font-style="italic">v</tspan>=575 km/h</text>
<path d="M40.8,273.0 V276.3 M41.5,273.0 V275.0 M42.2,273.0 V277.5 M43.0,273.0 V276.5 M43.8,273.0 V276.2 M44.5,273.0 V276.8 M45.2,273.0 V277.1 M46.0,273.0 V276.7 M46.8,273.0 V276.0 M47.5,273.0 V275.2 M48.2,273.0 V276.5 M49.0,273.0 V275.7 M49.8,273.0 V276.6 M50.5,273.0 V276.6 M51.2,273.0 V277.2 M52.0,273.0 V277.0 M52.8,273.0 V277.1 M53.5,273.0 V275.9 M54.2,273.0 V280.3 M55.0,273.0 V277.2 M55.8,273.0 V275.6 M56.5,273.0 V275.3 M57.2,273.0 V274.9 M58.0,273.0 V277.2 M58.8,273.0 V276.5 M59.5,273.0 V277.3 M60.2,273.0 V278.2 M61.0,273.0 V278.8 M61.8,273.0 V279.0 M62.5,273.0 V277.8 M63.2,273.0 V278.4 M64.0,273.0 V278.5 M64.8,273.0 V278.8 M65.5,273.0 V280.4 M66.2,273.0 V280.4 M67.0,273.0 V291.5 M67.8,273.0 V310.0 M68.5,273.0 V291.5 M69.2,273.0 V284.1 M70.0,273.0 V284.1 M70.8,273.0 V287.8 M71.5,273.0 V280.4 M72.2,273.0 V279.6 M73.0,273.0 V278.7 M73.8,273.0 V277.0 M74.5,273.0 V278.1 M75.2,273.0 V279.3 M76.0,273.0 V278.3 M76.8,273.0 V276.2 M77.5,273.0 V274.8 M78.2,273.0 V277.4 M79.0,273.0 V275.7 M79.8,273.0 V276.4 M80.5,273.0 V275.1 M81.2,273.0 V275.0 M82.0,273.0 V276.9 M82.8,273.0 V276.0 M83.5,273.0 V275.9 M84.2,273.0 V278.5 M85.0,273.0 V277.2 M85.8,273.0 V279.3 M86.5,273.0 V278.3 M87.2,273.0 V276.4 M88.0,273.0 V280.7 M88.8,273.0 V277.1 M89.5,273.0 V279.7 M90.2,273.0 V276.7 M91.0,273.0 V281.0 M91.8,273.0 V277.0 M92.5,273.0 V281.0 M93.2,273.0 V293.0 M94.0,273.0 V281.0 M94.8,273.0 V283.0 M95.5,273.0 V281.0 M96.2,273.0 V279.0 M97.0,273.0 V279.0 M97.8,273.0 V276.1 M98.5,273.0 V276.2 M99.2,273.0 V277.2 M100.0,273.0 V278.7 M100.8,273.0 V279.2 M101.5,273.0 V277.9 M102.2,273.0 V275.7 M103.0,273.0 V276.5 M103.8,273.0 V278.0 M104.5,273.0 V276.2 M105.2,273.0 V276.6 M106.0,273.0 V276.6 M106.8,273.0 V277.4 M107.5,273.0 V278.5 M108.2,273.0 V276.8 M109.0,273.0 V275.8 M109.8,273.0 V276.3 M110.5,273.0 V275.9 M111.2,273.0 V276.9 M112.0,273.0 V276.3 M112.8,273.0 V278.8 M113.5,273.0 V277.2 M114.2,273.0 V278.3 M115.0,273.0 V277.6 M115.8,273.0 V278.2 M116.5,273.0 V279.4 M117.2,273.0 V285.6 M118.0,273.0 V285.6 M118.8,273.0 V300.3 M119.5,273.0 V285.6 M120.2,273.0 V315.0 M121.0,273.0 V285.6 M121.8,273.0 V294.0 M122.5,273.0 V285.6 M123.2,273.0 V285.6 M124.0,273.0 V281.4 M124.8,273.0 V279.4 M125.5,273.0 V277.8 M126.2,273.0 V277.6 M127.0,273.0 V278.1 M127.8,273.0 V276.6 M128.5,273.0 V276.0 M129.2,273.0 V275.7 M130.0,273.0 V276.1 M130.8,273.0 V275.9 M131.5,273.0 V277.3 M132.2,273.0 V277.4 M133.0,273.0 V278.1 M133.8,273.0 V275.7 M134.5,273.0 V277.6 M135.2,273.0 V275.3 M136.0,273.0 V276.8 M136.8,273.0 V276.6 M137.5,273.0 V275.9 M138.2,273.0 V277.6 M139.0,273.0 V277.1 M139.8,273.0 V279.3 M140.5,273.0 V276.8 M141.2,273.0 V278.6 M142.0,273.0 V279.3 M142.8,273.0 V279.7 M143.5,273.0 V278.3 M144.2,273.0 V278.3 M145.0,273.0 V286.2 M145.8,273.0 V299.5 M146.5,273.0 V299.5 M147.2,273.0 V280.9 M148.0,273.0 V280.9 M148.8,273.0 V283.6 M149.5,273.0 V280.9 M150.2,273.0 V277.3 M151.0,273.0 V277.2 M151.8,273.0 V278.9 M152.5,273.0 V278.5 M153.2,273.0 V277.2 M154.0,273.0 V276.3 M154.8,273.0 V275.3 M155.5,273.0 V276.1 M156.2,273.0 V276.0 M157.0,273.0 V276.1 M157.8,273.0 V277.0 M158.5,273.0 V277.3 M159.2,273.0 V279.5 M160.0,273.0 V277.0 M160.8,273.0 V274.8 M161.5,273.0 V277.4 M162.2,273.0 V277.4 M163.0,273.0 V275.4 M163.8,273.0 V276.4 M164.5,273.0 V276.6 M165.2,273.0 V278.3 M166.0,273.0 V277.3 M166.8,273.0 V278.3 M167.5,273.0 V278.5 M168.2,273.0 V279.1 M169.0,273.0 V278.3 M169.8,273.0 V278.3 M170.5,273.0 V283.7 M171.2,273.0 V283.7 M172.0,273.0 V287.3 M172.8,273.0 V308.7 M173.5,273.0 V290.9 M174.2,273.0 V287.3 M175.0,273.0 V283.7 M175.8,273.0 V283.7 M176.5,273.0 V280.1 M177.2,273.0 V276.6 M178.0,273.0 V279.5 M178.8,273.0 V277.6 M179.5,273.0 V277.4 M180.2,273.0 V279.9 M181.0,273.0 V275.8 M181.8,273.0 V275.6 M182.5,273.0 V276.3 M183.2,273.0 V276.2 M184.0,273.0 V277.3 M184.8,273.0 V277.1 M185.5,273.0 V274.9 M186.2,273.0 V275.1 M187.0,273.0 V276.7 M187.8,273.0 V276.3 M188.5,273.0 V275.7 M189.2,273.0 V275.8 M190.0,273.0 V277.1 M190.8,273.0 V277.1 M191.5,273.0 V279.9 M192.2,273.0 V279.1 M193.0,273.0 V277.1 M193.8,273.0 V277.4 M194.5,273.0 V279.5 M195.2,273.0 V279.1 M196.0,273.0 V279.1 M196.8,273.0 V292.8 M197.5,273.0 V303.4 M198.2,273.0 V303.4 M199.0,273.0 V292.8 M199.8,273.0 V285.2 M200.5,273.0 V282.1 M201.2,273.0 V285.2 M202.0,273.0 V279.3 M202.8,273.0 V277.6 M203.5,273.0 V276.5 M204.2,273.0 V279.9 M205.0,273.0 V276.5 M205.8,273.0 V279.4 M206.5,273.0 V275.3 M207.2,273.0 V277.2 M208.0,273.0 V275.1 M208.8,273.0 V275.3 M209.5,273.0 V277.0 M210.2,273.0 V275.5 M211.0,273.0 V275.1 M211.8,273.0 V275.5 M212.5,273.0 V276.4 M213.2,273.0 V276.3 M214.0,273.0 V275.0 M214.8,273.0 V276.4 M215.5,273.0 V275.4 M216.2,273.0 V277.5 M217.0,273.0 V278.1 M217.8,273.0 V278.0 M218.5,273.0 V278.2 M219.2,273.0 V279.3 M220.0,273.0 V277.9 M220.8,273.0 V276.4 M221.5,273.0 V276.8 M222.2,273.0 V280.9 M223.0,273.0 V288.8 M223.8,273.0 V288.8 M224.5,273.0 V312.6 M225.2,273.0 V312.6 M226.0,273.0 V292.8 M226.8,273.0 V288.8 M227.5,273.0 V280.9 M228.2,273.0 V288.8 M229.0,273.0 V277.2 M229.8,273.0 V279.5 M230.5,273.0 V277.0 M231.2,273.0 V276.9 M232.0,273.0 V277.3 M232.8,273.0 V278.7 M233.5,273.0 V276.7 M234.2,273.0 V276.3 M235.0,273.0 V277.0 M235.8,273.0 V274.8 M236.5,273.0 V278.4 M237.2,273.0 V276.7 M238.0,273.0 V274.8 M238.8,273.0 V275.9 M239.5,273.0 V275.5 M240.2,273.0 V275.4 M241.0,273.0 V277.5 M241.8,273.0 V276.4 M242.5,273.0 V276.0 M243.2,273.0 V277.3 M244.0,273.0 V276.3 M244.8,273.0 V277.0 M245.5,273.0 V277.4 M246.2,273.0 V277.2 M247.0,273.0 V276.9 M247.8,273.0 V276.7 M248.5,273.0 V277.4 M249.2,273.0 V283.3 M250.0,273.0 V283.3 M250.8,273.0 V295.4 M251.5,273.0 V307.4 M252.2,273.0 V307.4 M253.0,273.0 V290.2 M253.8,273.0 V290.2 M254.5,273.0 V286.8 M255.2,273.0 V283.3 M256.0,273.0 V276.2 M256.8,273.0 V276.4 M257.5,273.0 V276.9 M258.2,273.0 V276.6 M259.0,273.0 V276.5" stroke="#ec4a52" stroke-width="0.95" fill="none"/>
<line x1="31.0" y1="273.0" x2="259.0" y2="273.0" stroke="#e8404a" stroke-width="1.4"/>
<path d="M40.8,267.0 V264.8 M41.5,267.0 V260.9 M42.2,267.0 V264.8 M43.0,267.0 V264.1 M43.8,267.0 V262.9 M44.5,267.0 V265.3 M45.2,267.0 V265.4 M46.0,267.0 V262.9 M46.8,267.0 V263.1 M47.5,267.0 V265.2 M48.2,267.0 V264.2 M49.0,267.0 V264.3 M49.8,267.0 V262.8 M50.5,267.0 V262.5 M51.2,267.0 V262.6 M52.0,267.0 V264.9 M52.8,267.0 V265.3 M53.5,267.0 V263.1 M54.2,267.0 V261.0 M55.0,267.0 V264.5 M55.8,267.0 V262.5 M56.5,267.0 V265.4 M57.2,267.0 V265.0 M58.0,267.0 V262.6 M58.8,267.0 V263.9 M59.5,267.0 V263.6 M60.2,267.0 V262.4 M61.0,267.0 V262.1 M61.8,267.0 V261.9 M62.5,267.0 V263.2 M63.2,267.0 V262.9 M64.0,267.0 V261.8 M64.8,267.0 V262.7 M65.5,267.0 V253.9 M66.2,267.0 V253.9 M67.0,267.0 V248.2 M67.8,267.0 V238.0 M68.5,267.0 V242.3 M69.2,267.0 V248.2 M70.0,267.0 V248.2 M70.8,267.0 V253.9 M71.5,267.0 V253.9 M72.2,267.0 V261.2 M73.0,267.0 V260.3 M73.8,267.0 V263.0 M74.5,267.0 V262.9 M75.2,267.0 V261.6 M76.0,267.0 V265.5 M76.8,267.0 V264.7 M77.5,267.0 V261.9 M78.2,267.0 V265.3 M79.0,267.0 V264.0 M79.8,267.0 V263.6 M80.5,267.0 V264.5 M81.2,267.0 V264.4 M82.0,267.0 V263.7 M82.8,267.0 V263.6 M83.5,267.0 V263.4 M84.2,267.0 V264.8 M85.0,267.0 V264.2 M85.8,267.0 V262.8 M86.5,267.0 V261.8 M87.2,267.0 V263.9 M88.0,267.0 V263.6 M88.8,267.0 V261.6 M89.5,267.0 V261.8 M90.2,267.0 V263.3 M91.0,267.0 V254.2 M91.8,267.0 V250.0 M92.5,267.0 V242.9 M93.2,267.0 V238.6 M94.0,267.0 V248.5 M94.8,267.0 V248.5 M95.5,267.0 V245.7 M96.2,267.0 V250.0 M97.0,267.0 V250.0 M97.8,267.0 V262.0 M98.5,267.0 V261.4 M99.2,267.0 V262.8 M100.0,267.0 V262.1 M100.8,267.0 V263.7 M101.5,267.0 V265.1 M102.2,267.0 V261.6 M103.0,267.0 V265.3 M103.8,267.0 V265.1 M104.5,267.0 V264.2 M105.2,267.0 V263.4 M106.0,267.0 V263.5 M106.8,267.0 V265.2 M107.5,267.0 V263.9 M108.2,267.0 V263.3 M109.0,267.0 V265.1 M109.8,267.0 V265.2 M110.5,267.0 V263.6 M111.2,267.0 V264.1 M112.0,267.0 V265.0 M112.8,267.0 V263.2 M113.5,267.0 V261.6 M114.2,267.0 V262.0 M115.0,267.0 V262.0 M115.8,267.0 V261.6 M116.5,267.0 V263.1 M117.2,267.0 V251.2 M118.0,267.0 V251.2 M118.8,267.0 V249.9 M119.5,267.0 V249.9 M120.2,267.0 V240.7 M121.0,267.0 V252.5 M121.8,267.0 V252.5 M122.5,267.0 V252.5 M123.2,267.0 V259.1 M124.0,267.0 V255.2 M124.8,267.0 V263.0 M125.5,267.0 V262.7 M126.2,267.0 V262.9 M127.0,267.0 V261.4 M127.8,267.0 V262.1 M128.5,267.0 V263.7 M129.2,267.0 V261.9 M130.0,267.0 V265.4 M130.8,267.0 V264.8 M131.5,267.0 V265.2 M132.2,267.0 V264.6 M133.0,267.0 V262.6 M133.8,267.0 V260.7 M134.5,267.0 V263.6 M135.2,267.0 V264.1 M136.0,267.0 V262.8 M136.8,267.0 V264.4 M137.5,267.0 V263.6 M138.2,267.0 V261.7 M139.0,267.0 V262.9 M139.8,267.0 V263.0 M140.5,267.0 V261.2 M141.2,267.0 V261.9 M142.0,267.0 V263.9 M142.8,267.0 V261.6 M143.5,267.0 V257.7 M144.2,267.0 V257.7 M145.0,267.0 V240.7 M145.8,267.0 V236.0 M146.5,267.0 V236.0 M147.2,267.0 V246.8 M148.0,267.0 V240.7 M148.8,267.0 V257.7 M149.5,267.0 V257.7 M150.2,267.0 V261.6 M151.0,267.0 V262.7 M151.8,267.0 V261.4 M152.5,267.0 V263.4 M153.2,267.0 V262.2 M154.0,267.0 V262.5 M154.8,267.0 V264.1 M155.5,267.0 V265.4 M156.2,267.0 V265.1 M157.0,267.0 V264.9 M157.8,267.0 V264.4 M158.5,267.0 V264.2 M159.2,267.0 V264.8 M160.0,267.0 V264.4 M160.8,267.0 V263.9 M161.5,267.0 V262.5 M162.2,267.0 V264.4 M163.0,267.0 V264.0 M163.8,267.0 V263.0 M164.5,267.0 V264.7 M165.2,267.0 V261.5 M166.0,267.0 V261.7 M166.8,267.0 V262.6 M167.5,267.0 V262.9 M168.2,267.0 V263.7 M169.0,267.0 V262.4 M169.8,267.0 V262.6 M170.5,267.0 V258.5 M171.2,267.0 V258.5 M172.0,267.0 V242.9 M172.8,267.0 V238.6 M173.5,267.0 V242.9 M174.2,267.0 V242.9 M175.0,267.0 V251.4 M175.8,267.0 V254.2 M176.5,267.0 V258.5 M177.2,267.0 V262.1 M178.0,267.0 V261.5 M178.8,267.0 V263.7 M179.5,267.0 V262.5 M180.2,267.0 V261.0 M181.0,267.0 V264.8 M181.8,267.0 V261.7 M182.5,267.0 V263.2 M183.2,267.0 V264.2 M184.0,267.0 V263.7 M184.8,267.0 V262.6 M185.5,267.0 V264.9 M186.2,267.0 V260.1 M187.0,267.0 V262.5 M187.8,267.0 V265.2 M188.5,267.0 V263.7 M189.2,267.0 V264.5 M190.0,267.0 V261.1 M190.8,267.0 V262.1 M191.5,267.0 V261.4 M192.2,267.0 V261.5 M193.0,267.0 V262.9 M193.8,267.0 V261.9 M194.5,267.0 V262.0 M195.2,267.0 V244.2 M196.0,267.0 V255.6 M196.8,267.0 V242.3 M197.5,267.0 V229.0 M198.2,267.0 V229.0 M199.0,267.0 V238.5 M199.8,267.0 V234.7 M200.5,267.0 V249.9 M201.2,267.0 V249.9 M202.0,267.0 V260.6 M202.8,267.0 V263.4 M203.5,267.0 V262.3 M204.2,267.0 V263.1 M205.0,267.0 V261.3 M205.8,267.0 V261.3 M206.5,267.0 V261.4 M207.2,267.0 V264.9 M208.0,267.0 V262.7 M208.8,267.0 V262.9 M209.5,267.0 V261.1 M210.2,267.0 V265.0 M211.0,267.0 V264.5 M211.8,267.0 V263.8 M212.5,267.0 V263.5 M213.2,267.0 V264.3 M214.0,267.0 V264.2 M214.8,267.0 V264.0 M215.5,267.0 V263.4 M216.2,267.0 V264.5 M217.0,267.0 V263.3 M217.8,267.0 V262.7 M218.5,267.0 V261.7 M219.2,267.0 V261.0 M220.0,267.0 V260.9 M220.8,267.0 V262.8 M221.5,267.0 V262.8 M222.2,267.0 V257.4 M223.0,267.0 V252.6 M223.8,267.0 V243.0 M224.5,267.0 V235.0 M225.2,267.0 V235.0 M226.0,267.0 V243.0 M226.8,267.0 V249.4 M227.5,267.0 V257.4 M228.2,267.0 V252.6 M229.0,267.0 V262.7 M229.8,267.0 V264.0 M230.5,267.0 V262.1 M231.2,267.0 V263.6 M232.0,267.0 V262.6 M232.8,267.0 V263.1 M233.5,267.0 V265.2 M234.2,267.0 V263.4 M235.0,267.0 V265.0 M235.8,267.0 V264.3 M236.5,267.0 V261.6 M237.2,267.0 V262.7 M238.0,267.0 V264.8 M238.8,267.0 V264.3 M239.5,267.0 V263.5 M240.2,267.0 V263.7 M241.0,267.0 V263.6 M241.8,267.0 V264.9 M242.5,267.0 V265.0 M243.2,267.0 V262.7 M244.0,267.0 V263.1 M244.8,267.0 V263.9 M245.5,267.0 V263.6 M246.2,267.0 V261.6 M247.0,267.0 V262.0 M247.8,267.0 V263.6 M248.5,267.0 V262.5 M249.2,267.0 V252.8 M250.0,267.0 V252.8 M250.8,267.0 V240.2 M251.5,267.0 V235.5 M252.2,267.0 V235.5 M253.0,267.0 V240.2 M253.8,267.0 V240.2 M254.5,267.0 V257.6 M255.2,267.0 V252.8 M256.0,267.0 V262.6 M256.8,267.0 V261.1 M257.5,267.0 V263.1 M258.2,267.0 V261.0 M259.0,267.0 V262.5" stroke="#4c5ee0" stroke-width="0.8" fill="none" stroke-dasharray="1.3,0.7"/>
<line x1="31.0" y1="267.0" x2="259.0" y2="267.0" stroke="#4c5ee0" stroke-width="1.1"/>
<rect x="306" y="210" width="229" height="120" fill="none" stroke="#cfcfcf" stroke-width="1.2"/>
<text x="303.5" y="213.0" font-size="8.6" text-anchor="end" fill="#444444" stroke="#444444" stroke-width="0.3" font-weight="bold">0.015</text>
<text x="303.5" y="233.0" font-size="8.6" text-anchor="end" fill="#4a4ad8" stroke="#4a4ad8" stroke-width="0.3" font-weight="bold">0.01</text>
<text x="303.5" y="253.0" font-size="8.6" text-anchor="end" fill="#444444" stroke="#444444" stroke-width="0.3" font-weight="bold">0.05</text>
<text x="303.5" y="273.0" font-size="8.6" text-anchor="end" fill="#444444" stroke="#444444" stroke-width="0.3" font-weight="bold">0.0</text>
<text x="303.5" y="293.0" font-size="8.6" text-anchor="end" fill="#444444" stroke="#444444" stroke-width="0.3" font-weight="bold">−0.05</text>
<text x="303.5" y="313.0" font-size="8.6" text-anchor="end" fill="#e04040" stroke="#e04040" stroke-width="0.3" font-weight="bold">−0.01</text>
<text x="303.5" y="333.0" font-size="8.6" text-anchor="end" fill="#444444" stroke="#444444" stroke-width="0.3" font-weight="bold">−0.015</text>
<line x1="304.0" y1="210.0" x2="306.0" y2="210.0" stroke="#cfcfcf" stroke-width="1"/>
<line x1="304.0" y1="250.0" x2="306.0" y2="250.0" stroke="#cfcfcf" stroke-width="1"/>
<line x1="304.0" y1="270.0" x2="306.0" y2="270.0" stroke="#cfcfcf" stroke-width="1"/>
<line x1="304.0" y1="290.0" x2="306.0" y2="290.0" stroke="#cfcfcf" stroke-width="1"/>
<line x1="304.0" y1="330.0" x2="306.0" y2="330.0" stroke="#cfcfcf" stroke-width="1"/>
<text x="306.5" y="339.0" font-size="9" text-anchor="middle" fill="#444444" stroke="#444444" stroke-width="0.3" font-weight="bold">0.0</text>
<text x="353.8" y="339.0" font-size="9" text-anchor="middle" fill="#444444" stroke="#444444" stroke-width="0.3" font-weight="bold" textLength="24.5" lengthAdjust="spacingAndGlyphs">1000.0</text>
<text x="399.6" y="339.0" font-size="9" text-anchor="middle" fill="#444444" stroke="#444444" stroke-width="0.3" font-weight="bold" textLength="24.5" lengthAdjust="spacingAndGlyphs">2000.0</text>
<text x="444.9" y="339.0" font-size="9" text-anchor="middle" fill="#444444" stroke="#444444" stroke-width="0.3" font-weight="bold" textLength="24.5" lengthAdjust="spacingAndGlyphs">3000.0</text>
<text x="489.7" y="339.0" font-size="9" text-anchor="middle" fill="#444444" stroke="#444444" stroke-width="0.3" font-weight="bold" textLength="24.5" lengthAdjust="spacingAndGlyphs">4000.0</text>
<text x="532.5" y="339.0" font-size="9" text-anchor="middle" fill="#444444" stroke="#444444" stroke-width="0.3" font-weight="bold" textLength="24.5" lengthAdjust="spacingAndGlyphs">5000.0</text>
<text x="418.0" y="348.0" font-size="9.6" text-anchor="middle" fill="#444444" stroke="#444444" stroke-width="0.3" font-weight="bold" textLength="46" lengthAdjust="spacingAndGlyphs">Mileage /m</text>
<text x="410.5" y="359.5" font-size="9.6" text-anchor="middle" fill="#444444" stroke="#444444" stroke-width="0.3" font-weight="bold">(d)</text>
<text x="279.5" y="270.0" font-size="9.6" text-anchor="middle" fill="#444444" stroke="#444444" stroke-width="0.3" font-weight="bold" textLength="115" lengthAdjust="spacingAndGlyphs" transform="rotate(-90 279.5 270.0)">Wheel longitudinal creepage</text>
<line x1="306.0" y1="230.0" x2="535.0" y2="230.0" stroke="#6a6ae0" stroke-width="0.8" stroke-dasharray="1.5,1"/>
<line x1="306.0" y1="310.0" x2="535.0" y2="310.0" stroke="#e87070" stroke-width="0.8" stroke-dasharray="1.5,1"/>
<path d="M306.0,270.0 V270.0 M306.9,270.0 V270.0 M307.8,270.0 V270.0 M308.7,270.0 V270.0 M309.6,270.0 V270.0 M310.5,270.0 V270.0 M311.4,270.0 V270.0 M312.3,270.0 V270.0 M313.2,270.0 V270.0 M314.1,270.0 V270.0 M315.0,270.0 V270.0 M315.9,270.0 V270.0 M316.8,267.0 V273.3 M317.7,264.8 V273.6 M318.6,267.4 V273.0 M319.5,268.6 V273.1 M320.4,269.1 V271.3 M321.3,267.7 V271.5 M322.2,268.3 V273.2 M323.1,266.2 V273.6 M324.0,267.2 V273.0 M324.9,267.6 V272.8 M325.8,268.9 V272.6 M326.7,268.4 V271.0 M327.6,268.0 V272.8 M328.5,264.3 V275.7 M329.4,266.6 V271.9 M330.3,266.2 V271.6 M331.2,268.8 V271.7 M332.1,268.8 V271.2 M333.0,268.4 V272.6 M333.9,268.1 V273.6 M334.8,267.0 V273.6 M335.7,267.6 V272.0 M336.6,269.0 V271.1 M337.5,265.4 V273.9 M338.4,266.8 V276.7 M339.3,264.1 V276.8 M340.2,266.4 V276.4 M341.1,263.1 V274.8 M342.0,257.9 V280.2 M342.9,250.1 V300.8 M343.8,243.0 V311.0 M344.7,259.5 V300.8 M345.6,253.2 V300.8 M346.5,253.2 V304.9 M347.4,253.2 V300.8 M348.3,253.8 V286.4 M349.2,266.3 V276.3 M350.1,264.1 V273.7 M351.0,264.5 V276.1 M351.9,264.4 V273.9 M352.8,266.1 V271.9 M353.7,269.3 V270.7 M354.6,268.5 V271.3 M355.5,267.3 V272.7 M356.4,268.1 V272.7 M357.3,268.0 V275.6 M358.2,268.4 V272.3 M359.1,268.1 V271.8 M360.0,268.6 V271.1 M360.9,267.9 V272.7 M361.8,266.4 V273.3 M362.7,265.5 V274.7 M363.6,263.2 V276.7 M364.5,265.3 V274.3 M365.4,266.5 V275.5 M366.3,266.9 V275.1 M367.2,259.5 V275.9 M368.1,260.0 V280.6 M369.0,246.7 V293.6 M369.9,257.0 V280.6 M370.8,257.0 V280.6 M371.7,256.0 V283.0 M372.6,256.0 V275.9 M373.5,266.9 V276.1 M374.4,266.3 V275.8 M375.3,264.8 V273.6 M376.2,267.5 V274.7 M377.1,267.0 V271.3 M378.0,268.9 V271.1 M378.9,268.3 V272.9 M379.8,267.3 V272.2 M380.7,268.0 V272.3 M381.6,267.3 V271.9 M382.5,267.5 V271.5 M383.4,268.6 V271.3 M384.3,268.3 V272.0 M385.2,267.6 V273.6 M386.1,268.0 V272.3 M387.0,267.0 V272.7 M387.9,267.1 V271.0 M388.8,265.4 V274.9 M389.7,265.5 V276.4 M390.6,266.4 V276.6 M391.5,263.7 V274.2 M392.4,264.1 V274.4 M393.3,260.9 V297.2 M394.2,254.2 V299.6 M395.1,239.7 V319.4 M396.0,246.9 V307.0 M396.9,250.6 V312.0 M397.8,254.2 V307.0 M398.7,256.4 V289.8 M399.6,260.9 V282.4 M400.5,263.0 V273.1 M401.4,263.4 V275.8 M402.3,265.1 V276.1 M403.2,265.8 V272.1 M404.1,268.3 V271.9 M405.0,269.2 V270.8 M405.9,268.3 V272.1 M406.8,267.2 V271.7 M407.7,267.0 V275.4 M408.6,267.3 V273.1 M409.5,268.0 V272.8 M410.4,268.6 V272.3 M411.3,266.3 V270.7 M412.2,268.3 V271.6 M413.1,265.0 V271.9 M414.0,266.4 V273.8 M414.9,266.5 V275.1 M415.8,264.3 V274.1 M416.7,263.5 V276.5 M417.6,267.0 V274.1 M418.5,263.9 V273.1 M419.4,256.7 V276.2 M420.3,254.0 V288.6 M421.2,247.9 V294.8 M422.1,260.0 V284.9 M423.0,257.0 V284.9 M423.9,257.0 V291.1 M424.8,260.1 V276.2 M425.7,263.3 V275.1 M426.6,265.3 V273.2 M427.5,263.5 V274.6 M428.4,265.6 V276.0 M429.3,268.8 V271.3 M430.2,267.2 V272.9 M431.1,267.9 V274.8 M432.0,268.0 V273.2 M432.9,267.3 V272.0 M433.8,268.6 V273.6 M434.7,268.4 V271.2 M435.6,268.4 V272.1 M436.5,266.8 V272.6 M437.4,266.5 V273.1 M438.3,267.4 V272.0 M439.2,267.5 V271.1 M440.1,268.4 V271.8 M441.0,266.9 V274.5 M441.9,266.9 V273.7 M442.8,264.9 V276.6 M443.7,267.0 V274.6 M444.6,264.5 V274.5 M445.5,265.5 V276.5 M446.4,263.4 V273.7 M447.3,252.5 V289.4 M448.2,255.0 V296.5 M449.1,240.9 V305.3 M450.0,255.0 V300.0 M450.9,258.4 V285.9 M451.8,248.1 V300.0 M452.7,248.1 V285.9 M453.6,256.9 V289.4 M454.5,263.9 V273.7 M455.4,263.5 V274.5 M456.3,263.4 V277.0 M457.2,267.0 V276.9 M458.1,265.5 V271.6 M459.0,266.9 V272.6 M459.9,268.1 V273.4 M460.8,267.9 V272.4 M461.7,267.8 V272.4 M462.6,267.0 V271.6 M463.5,268.1 V271.2 M464.4,267.1 V272.3 M465.3,266.6 V273.4 M466.2,267.9 V272.0 M467.1,267.0 V271.7 M468.0,267.7 V271.3 M468.9,264.6 V276.4 M469.8,265.0 V276.4 M470.7,266.1 V274.7 M471.6,263.4 V273.4 M472.5,266.2 V276.3 M473.4,256.8 V282.2 M474.3,233.9 V283.8 M475.2,226.0 V300.6 M476.1,233.9 V288.4 M477.0,251.0 V288.4 M477.9,239.6 V288.4 M478.8,256.8 V282.2 M479.7,250.2 V286.8 M480.6,265.9 V275.2 M481.5,267.0 V276.1 M482.4,266.8 V275.0 M483.3,268.1 V274.1 M484.2,267.9 V272.4 M485.1,268.8 V271.4 M486.0,267.9 V271.4 M486.9,268.3 V272.3 M487.8,267.4 V273.6 M488.7,266.7 V272.1 M489.6,267.8 V272.9 M490.5,268.9 V270.9 M491.4,268.7 V271.9 M492.3,267.1 V272.6 M493.2,267.7 V272.4 M494.1,266.5 V274.6 M495.0,263.5 V273.2 M495.9,264.6 V273.9 M496.8,265.9 V274.8 M497.7,263.6 V275.0 M498.6,264.9 V276.6 M499.5,249.0 V281.5 M500.4,254.2 V295.2 M501.3,251.2 V309.0 M502.2,235.0 V315.9 M503.1,251.2 V309.0 M504.0,251.2 V304.4 M504.9,255.5 V290.7 M505.8,246.8 V297.5 M506.7,246.8 V290.7 M507.6,242.4 V309.0 M508.5,242.4 V290.7 M509.4,246.8 V290.7 M510.3,259.5 V281.5 M511.2,264.8 V274.7 M512.1,266.2 V275.1 M513.0,265.7 V276.2 M513.9,265.2 V276.7 M514.8,268.7 V271.2 M515.7,268.3 V272.0 M516.6,268.0 V272.1 M517.5,267.9 V273.8 M518.4,268.1 V272.5 M519.3,268.5 V272.2 M520.2,266.7 V270.9 M521.1,265.0 V276.5 M522.0,266.5 V274.7 M522.9,264.0 V275.9 M523.8,264.4 V274.7 M524.7,265.0 V275.8 M525.6,260.6 V289.4 M526.5,245.8 V285.9 M527.4,245.8 V285.9 M528.3,238.5 V305.3 M529.2,249.6 V300.0 M530.1,245.8 V285.9 M531.0,253.4 V291.2 M531.9,245.8 V296.5 M532.8,245.8 V291.2 M533.7,257.2 V296.5 M534.6,255.8 V278.8" stroke="#f07585" stroke-width="0.7" fill="none" opacity="0.9"/>
<path d="M306.4,270.0 V270.0 M307.3,270.0 V270.0 M308.2,270.0 V270.0 M309.1,270.0 V270.0 M310.0,270.0 V270.0 M310.9,270.0 V270.0 M311.8,270.0 V270.0 M312.7,270.0 V270.0 M313.6,270.0 V270.0 M314.5,270.0 V270.0 M315.4,270.0 V270.0 M316.3,270.0 V270.0 M317.2,267.2 V272.6 M318.1,268.2 V272.6 M319.0,266.1 V272.2 M319.9,268.8 V271.4 M320.8,268.9 V271.5 M321.7,267.3 V272.1 M322.6,267.6 V273.1 M323.5,268.0 V272.4 M324.4,267.0 V272.0 M325.3,268.8 V273.4 M326.2,268.7 V270.8 M327.1,268.0 V273.6 M328.0,267.3 V271.8 M328.9,266.4 V272.7 M329.8,268.1 V272.7 M330.7,267.5 V271.3 M331.6,269.3 V270.8 M332.5,268.6 V272.1 M333.4,267.3 V271.8 M334.3,267.0 V273.4 M335.2,266.7 V272.8 M336.1,264.8 V272.0 M337.0,266.6 V275.5 M337.9,265.0 V275.8 M338.8,263.1 V274.6 M339.7,266.3 V276.4 M340.6,263.2 V276.9 M341.5,253.8 V280.2 M342.4,261.9 V280.2 M343.3,256.4 V304.9 M344.2,243.0 V311.0 M345.1,253.2 V294.6 M346.0,256.4 V288.4 M346.9,259.5 V294.6 M347.8,253.8 V292.6 M348.7,261.9 V292.6 M349.6,265.9 V275.0 M350.5,266.9 V274.0 M351.4,265.0 V274.0 M352.3,265.9 V271.6 M353.2,269.1 V270.9 M354.1,269.0 V271.5 M355.0,267.5 V271.6 M355.9,267.3 V272.6 M356.8,267.2 V272.2 M357.7,267.6 V271.9 M358.6,268.7 V271.3 M359.5,269.3 V270.7 M360.4,265.4 V271.2 M361.3,268.4 V272.0 M362.2,265.7 V276.5 M363.1,265.6 V276.9 M364.0,263.6 V273.1 M364.9,263.5 V276.6 M365.8,263.3 V274.8 M366.7,263.0 V275.9 M367.6,260.0 V287.7 M368.5,251.0 V284.2 M369.4,257.0 V287.7 M370.3,260.0 V287.7 M371.2,254.0 V280.6 M372.1,259.5 V283.0 M373.0,265.0 V274.4 M373.9,263.8 V276.1 M374.8,265.9 V275.1 M375.7,265.9 V275.1 M376.6,268.2 V272.4 M377.5,267.4 V271.1 M378.4,268.0 V271.9 M379.3,267.5 V272.3 M380.2,267.3 V272.9 M381.1,265.7 V272.7 M382.0,268.3 V271.7 M382.9,269.1 V271.0 M383.8,268.5 V272.0 M384.7,267.8 V272.5 M385.6,268.1 V273.2 M386.5,266.6 V271.8 M387.4,267.6 V272.0 M388.3,265.1 V275.8 M389.2,264.5 V276.2 M390.1,265.0 V276.3 M391.0,264.0 V276.3 M391.9,266.0 V274.5 M392.8,251.8 V282.4 M393.7,257.9 V299.6 M394.6,239.7 V319.4 M395.5,250.6 V307.0 M396.4,254.2 V292.2 M397.3,250.6 V307.0 M398.2,254.2 V292.2 M399.1,251.8 V297.2 M400.0,265.4 V273.6 M400.9,263.1 V274.7 M401.8,264.4 V274.7 M402.7,265.0 V275.9 M403.6,268.4 V271.7 M404.5,267.0 V271.3 M405.4,268.8 V271.5 M406.3,268.3 V272.3 M407.2,268.3 V272.5 M408.1,266.8 V275.6 M409.0,267.7 V273.3 M409.9,268.1 V271.8 M410.8,268.7 V271.7 M411.7,268.3 V271.0 M412.6,267.4 V271.5 M413.5,267.6 V273.2 M414.4,265.0 V273.8 M415.3,263.6 V275.3 M416.2,265.7 V275.9 M417.1,266.3 V275.8 M418.0,263.9 V276.7 M418.9,263.4 V283.6 M419.8,254.0 V291.1 M420.7,247.9 V294.8 M421.6,254.0 V281.2 M422.5,260.0 V288.6 M423.4,254.0 V288.6 M424.3,263.4 V279.9 M425.2,260.1 V276.2 M426.1,264.0 V276.0 M427.0,266.6 V275.5 M427.9,263.8 V273.9 M428.8,269.0 V273.2 M429.7,267.5 V272.1 M430.6,267.1 V271.8 M431.5,267.5 V272.6 M432.4,267.3 V274.5 M433.3,267.8 V271.2 M434.2,268.9 V270.9 M435.1,267.0 V272.2 M436.0,267.3 V274.9 M436.9,267.9 V273.0 M437.8,267.9 V272.5 M438.7,268.1 V271.6 M439.6,268.8 V271.2 M440.5,268.4 V272.3 M441.4,268.2 V273.3 M442.3,266.5 V275.2 M443.2,266.7 V274.3 M444.1,264.6 V273.4 M445.0,266.8 V274.5 M445.9,263.8 V274.0 M446.8,261.3 V278.8 M447.7,248.1 V296.5 M448.6,240.9 V305.3 M449.5,255.0 V300.0 M450.4,258.4 V285.9 M451.3,258.4 V296.5 M452.2,251.5 V300.0 M453.1,261.3 V278.8 M454.0,256.9 V284.1 M454.9,264.0 V276.8 M455.8,266.9 V276.9 M456.7,264.4 V273.4 M457.6,268.2 V272.2 M458.5,267.2 V274.7 M459.4,267.4 V274.8 M460.3,266.4 V272.6 M461.2,267.9 V272.0 M462.1,266.3 V271.8 M463.0,268.7 V270.8 M463.9,268.4 V272.0 M464.8,266.7 V271.8 M465.7,267.0 V272.2 M466.6,267.4 V272.5 M467.5,268.4 V271.5 M468.4,265.6 V273.9 M469.3,265.0 V276.6 M470.2,264.4 V276.7 M471.1,263.9 V274.1 M472.0,265.5 V276.0 M472.9,243.6 V277.6 M473.8,251.0 V296.0 M474.7,226.0 V300.6 M475.6,239.6 V283.8 M476.5,251.0 V283.8 M477.4,245.3 V283.8 M478.3,251.0 V288.4 M479.2,256.8 V277.6 M480.1,263.2 V273.4 M481.0,266.7 V276.9 M481.9,266.6 V276.7 M482.8,263.1 V273.2 M483.7,267.8 V272.0 M484.6,268.6 V271.5 M485.5,269.0 V271.3 M486.4,268.2 V271.5 M487.3,267.7 V273.0 M488.2,267.2 V272.5 M489.1,268.2 V272.5 M490.0,266.8 V271.6 M490.9,268.7 V271.1 M491.8,266.2 V271.9 M492.7,267.2 V273.0 M493.6,268.0 V272.8 M494.5,267.4 V272.3 M495.4,264.2 V273.5 M496.3,264.9 V276.8 M497.2,263.9 V273.1 M498.1,263.1 V275.1 M499.0,265.3 V274.7 M499.9,249.0 V281.5 M500.8,251.2 V297.5 M501.7,235.0 V315.9 M502.6,242.4 V297.5 M503.5,255.5 V309.0 M504.4,246.8 V309.0 M505.3,246.8 V304.4 M506.2,251.2 V309.0 M507.1,246.8 V304.4 M508.0,255.5 V309.0 M508.9,242.4 V309.0 M509.8,249.0 V295.2 M510.7,259.5 V281.5 M511.6,264.5 V275.4 M512.5,263.2 V273.4 M513.4,266.3 V274.2 M514.3,268.9 V271.2 M515.2,266.4 V271.7 M516.1,267.4 V272.1 M517.0,268.0 V272.3 M517.9,266.9 V272.9 M518.8,267.1 V272.5 M519.7,268.7 V272.6 M520.6,268.8 V271.1 M521.5,264.4 V276.8 M522.4,264.8 V274.3 M523.3,266.4 V274.6 M524.2,264.7 V273.1 M525.1,263.5 V275.0 M526.0,251.1 V289.4 M526.9,249.6 V300.0 M527.8,238.5 V305.3 M528.7,257.2 V291.2 M529.6,245.8 V300.0 M530.5,249.6 V285.9 M531.4,257.2 V285.9 M532.3,253.4 V285.9 M533.2,253.4 V300.0 M534.1,257.2 V285.9" stroke="#5858e8" stroke-width="0.75" fill="none" stroke-dasharray="1.2,0.6" opacity="0.9"/>
<path d="M306.2,270.0 V270.0 M307.1,270.0 V270.0 M308.0,270.0 V270.0 M308.9,270.0 V270.0 M309.8,270.0 V270.0 M310.7,270.0 V270.0 M311.6,270.0 V270.0 M312.5,270.0 V270.0 M313.4,270.0 V270.0 M314.3,270.0 V270.0 M315.2,270.0 V270.0 M316.1,270.0 V270.0 M317.0,267.6 V273.2 M317.9,267.8 V272.2 M318.8,267.4 V271.7 M319.7,268.7 V271.4 M320.6,269.2 V271.1 M321.5,267.5 V272.5 M322.4,266.5 V273.2 M323.3,267.2 V273.3 M324.2,267.6 V272.5 M325.1,267.6 V272.3 M326.0,268.9 V271.2 M326.9,268.4 V271.3 M327.8,267.9 V272.4 M328.7,267.9 V272.8 M329.6,265.5 V272.5 M330.5,268.0 V273.7 M331.4,268.5 V271.5 M332.3,268.5 V271.9 M333.2,268.1 V272.9 M334.1,267.9 V273.7 M335.0,267.8 V273.0 M335.9,268.0 V272.5 M336.8,269.0 V271.4 M337.7,266.8 V274.8 M338.6,264.8 V274.1 M339.5,263.7 V273.0 M340.4,265.1 V275.7 M341.3,264.0 V274.0 M342.2,257.9 V280.2 M343.1,253.2 V304.9 M344.0,253.2 V294.6 M344.9,256.4 V294.6 M345.8,253.2 V304.9 M346.7,250.1 V288.4 M347.6,253.8 V292.6 M348.5,261.9 V280.2 M349.4,266.1 V275.9 M350.3,265.2 V275.3 M351.2,266.5 V275.1 M352.1,267.2 V272.4 M353.0,267.6 V271.1 M353.9,269.1 V271.3 M354.8,267.6 V271.9 M355.7,267.0 V272.3 M356.6,267.5 V273.8 M357.5,265.8 V272.6 M358.4,268.2 V272.7 M359.3,268.4 V271.2 M360.2,268.6 V271.2 M361.1,267.7 V271.8 M362.0,265.2 V272.8 M362.9,265.0 V275.1 M363.8,265.3 V276.8 M364.7,266.4 V273.2 M365.6,264.6 V274.0 M366.5,265.6 V273.9 M367.4,256.0 V275.9 M368.3,257.0 V287.7 M369.2,257.0 V284.2 M370.1,260.0 V290.1 M371.0,251.0 V280.6 M371.9,256.0 V275.9 M372.8,259.5 V279.4 M373.7,265.4 V275.3 M374.6,265.7 V274.2 M375.5,266.2 V276.9 M376.4,268.5 V273.3 M377.3,266.7 V272.3 M378.2,268.3 V272.1 M379.1,267.2 V272.9 M380.0,268.0 V273.1 M380.9,266.8 V272.1 M381.8,268.0 V271.8 M382.7,268.8 V271.5 M383.6,268.8 V271.8 M384.5,266.8 V272.0 M385.4,267.5 V272.1 M386.3,266.9 V272.8 M387.2,268.3 V274.6 M388.1,265.2 V274.7 M389.0,266.4 V276.6 M389.9,266.6 V276.0 M390.8,264.6 V276.1 M391.7,265.5 V273.1 M392.6,251.8 V282.4 M393.5,246.9 V312.0 M394.4,254.2 V292.2 M395.3,246.9 V307.0 M396.2,246.9 V312.0 M397.1,246.9 V292.2 M398.0,246.9 V299.6 M398.9,251.8 V289.8 M399.8,260.9 V289.8 M400.7,265.0 V275.0 M401.6,266.5 V274.7 M402.5,266.2 V276.2 M403.4,267.5 V273.2 M404.3,268.0 V271.2 M405.2,269.0 V271.2 M406.1,268.1 V271.5 M407.0,267.2 V271.8 M407.9,264.8 V272.0 M408.8,266.5 V273.1 M409.7,267.5 V272.5 M410.6,268.7 V271.6 M411.5,268.8 V270.8 M412.4,268.5 V272.1 M413.3,267.5 V273.0 M414.2,264.1 V274.9 M415.1,264.6 V273.0 M416.0,265.2 V275.8 M416.9,266.7 V276.6 M417.8,263.4 V273.7 M418.7,260.1 V283.6 M419.6,254.0 V281.2 M420.5,257.0 V288.6 M421.4,254.0 V291.1 M422.3,254.0 V281.2 M423.2,260.0 V291.1 M424.1,256.7 V279.9 M425.0,260.1 V283.6 M425.9,264.8 V274.5 M426.8,265.8 V275.9 M427.7,266.0 V274.1 M428.6,268.7 V271.2 M429.5,268.6 V271.1 M430.4,267.9 V273.2 M431.3,267.8 V272.7 M432.2,267.6 V272.2 M433.1,268.3 V272.0 M434.0,269.2 V270.8 M434.9,267.7 V271.5 M435.8,267.8 V271.8 M436.7,264.7 V272.6 M437.6,267.8 V273.2 M438.5,265.7 V272.5 M439.4,269.3 V270.9 M440.3,268.0 V271.6 M441.2,266.7 V272.9 M442.1,264.5 V274.6 M443.0,264.2 V274.9 M443.9,266.3 V275.7 M444.8,266.8 V276.7 M445.7,263.4 V276.6 M446.6,256.9 V284.1 M447.5,255.0 V291.2 M448.4,255.0 V300.0 M449.3,248.1 V285.9 M450.2,258.4 V300.0 M451.1,255.0 V285.9 M452.0,248.1 V291.2 M452.9,248.1 V300.0 M453.8,252.5 V289.4 M454.7,264.8 V276.3 M455.6,264.7 V276.6 M456.5,267.0 V275.8 M457.4,266.7 V273.2 M458.3,267.4 V274.4 M459.2,267.9 V275.6 M460.1,267.8 V272.0 M461.0,268.2 V273.0 M461.9,268.2 V272.7 M462.8,269.1 V271.1 M463.7,268.7 V271.1 M464.6,268.4 V272.0 M465.5,266.9 V272.6 M466.4,267.7 V272.5 M467.3,268.2 V272.4 M468.2,264.3 V273.3 M469.1,264.5 V274.4 M470.0,263.4 V274.2 M470.9,266.3 V273.3 M471.8,263.6 V275.4 M472.7,243.6 V286.8 M473.6,239.6 V283.8 M474.5,233.9 V288.4 M475.4,245.3 V293.0 M476.3,233.9 V288.4 M477.2,239.6 V288.4 M478.1,251.0 V296.0 M479.0,250.2 V282.2 M479.9,243.6 V286.8 M480.8,264.4 V274.8 M481.7,264.4 V276.0 M482.6,264.4 V276.5 M483.5,267.5 V272.4 M484.4,268.0 V272.1 M485.3,269.3 V271.3 M486.2,268.2 V275.3 M487.1,267.5 V272.5 M488.0,268.0 V273.0 M488.9,266.5 V273.5 M489.8,268.5 V272.1 M490.7,268.7 V271.0 M491.6,268.6 V271.9 M492.5,267.5 V272.6 M493.4,267.3 V274.8 M494.3,267.8 V273.0 M495.2,263.4 V273.0 M496.1,264.3 V276.8 M497.0,263.1 V273.9 M497.9,263.2 V277.0 M498.8,266.8 V276.5 M499.7,254.2 V288.4 M500.6,251.2 V304.4 M501.5,242.4 V290.7 M502.4,246.8 V290.7 M503.3,246.8 V297.5 M504.2,246.8 V297.5 M505.1,246.8 V297.5 M506.0,251.2 V290.7 M506.9,242.4 V309.0 M507.8,246.8 V290.7 M508.7,255.5 V309.0 M509.6,249.0 V281.5 M510.5,254.2 V281.5 M511.4,264.3 V273.6 M512.3,264.9 V276.9 M513.2,263.9 V273.6 M514.1,268.4 V271.1 M515.0,268.2 V271.1 M515.9,267.6 V272.9 M516.8,266.7 V272.7 M517.7,266.9 V273.6 M518.6,267.8 V271.9 M519.5,268.5 V271.8 M520.4,269.1 V271.1 M521.3,267.0 V276.3 M522.2,264.0 V273.5 M523.1,264.7 V275.6 M524.0,264.6 V275.6 M524.9,266.4 V274.5 M525.8,260.6 V284.1 M526.7,257.2 V291.2 M527.6,245.8 V291.2 M528.5,249.6 V300.0 M529.4,257.2 V285.9 M530.3,245.8 V285.9 M531.2,257.2 V296.5 M532.1,249.6 V285.9 M533.0,249.6 V291.2 M533.9,253.4 V291.2 M534.8,255.8 V284.1" stroke="#6a3cc0" stroke-width="0.6" fill="none" opacity="0.7"/>
<line x1="306.0" y1="270.0" x2="535.0" y2="270.0" stroke="#5a2ab0" stroke-width="1.0" opacity="0.7"/>
<text x="310.0" y="220.0" font-size="9.5" text-anchor="start" fill="#444444" stroke="#444444" stroke-width="0.3" textLength="97" lengthAdjust="spacingAndGlyphs">Simulated transient value</text>
<text x="311.5" y="240.0" font-size="9.5" text-anchor="start" fill="#444444" stroke="#444444" stroke-width="0.3" textLength="168" lengthAdjust="spacingAndGlyphs">Some wheels are like to slip instantaneously</text>
<text x="311.5" y="306.5" font-size="9.5" text-anchor="start" fill="#444444" stroke="#444444" stroke-width="0.3" textLength="168" lengthAdjust="spacingAndGlyphs">Some wheels are like to slip instantaneously</text>
<line x1="460.0" y1="216.4" x2="483.0" y2="216.4" stroke="#5060dc" stroke-width="1.3"/>
<line x1="460.0" y1="224.0" x2="483.0" y2="224.0" stroke="#e8505a" stroke-width="1.3"/>
<text x="483.6" y="219.5" font-size="9.8" text-anchor="start" fill="#444444" stroke="#444444" stroke-width="0.3" textLength="45.5" lengthAdjust="spacingAndGlyphs">Right wheel</text>
<text x="483.6" y="227.3" font-size="9.8" text-anchor="start" fill="#444444" stroke="#444444" stroke-width="0.3" textLength="40" lengthAdjust="spacingAndGlyphs">Left wheel</text>
<text x="531.5" y="325.4" font-size="9.5" text-anchor="end" fill="#444444" stroke="#444444" stroke-width="0.3"><tspan font-style="italic">λ</tspan><tspan font-size="6" dy="1.5" font-style="italic">e</tspan><tspan dy="-1.5">=0.16, </tspan><tspan font-style="italic">v</tspan>=575 km/h</text>
</svg></body></html>
